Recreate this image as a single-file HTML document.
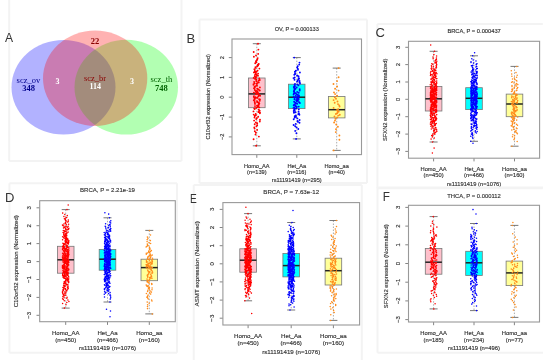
<!DOCTYPE html>
<html><head><meta charset="utf-8"><style>
html,body{margin:0;padding:0;background:#fff;width:550px;height:360px;overflow:hidden}
svg{display:block;filter:blur(0.3px)}
</style></head><body>
<svg width="550" height="360" viewBox="0 0 550 360" style="font-family:'Liberation Sans',sans-serif">
<rect width="550" height="360" fill="#fff"/>
<line x1="9.2" y1="0" x2="9.2" y2="161" stroke="#f3f3f3" stroke-width="2"/>
<line x1="181.5" y1="0" x2="181.5" y2="161" stroke="#f3f3f3" stroke-width="2"/>
<line x1="9.2" y1="161" x2="181.5" y2="161" stroke="#f3f3f3" stroke-width="2"/>
<text transform="translate(4.9,42.1) scale(0.93,1)" font-size="13" fill="#333">A</text>
<ellipse cx="63.5" cy="87.25" rx="52" ry="47.25" fill="#0000ff" fill-opacity="0.3"/>
<ellipse cx="126.25" cy="87.2" rx="51.75" ry="47.4" fill="#00ff00" fill-opacity="0.3"/>
<ellipse cx="95.15" cy="78.25" rx="52.15" ry="47.75" fill="#ff0000" fill-opacity="0.3"/>
<text x="95" y="43.6" style="font-family:'Liberation Serif',serif" font-size="8.5" font-weight="bold" fill="#8b0000" text-anchor="middle">22</text>
<text x="28.4" y="82.8" style="font-family:'Liberation Serif',serif" font-size="8.5" fill="#00008b" text-anchor="middle">scz_ov</text>
<text x="28.5" y="91" style="font-family:'Liberation Serif',serif" font-size="8.5" font-weight="bold" fill="#00008b" text-anchor="middle">348</text>
<text x="57.5" y="83.8" style="font-family:'Liberation Serif',serif" font-size="8" font-weight="bold" fill="#ffffff" text-anchor="middle">3</text>
<text x="95" y="80.7" style="font-family:'Liberation Serif',serif" font-size="8.5" fill="#8b0000" text-anchor="middle">scz_br</text>
<text x="95.2" y="89.3" style="font-family:'Liberation Serif',serif" font-size="8" font-weight="bold" fill="#ffffff" text-anchor="middle">114</text>
<text x="132" y="83.8" style="font-family:'Liberation Serif',serif" font-size="8" font-weight="bold" fill="#ffffff" text-anchor="middle">3</text>
<text x="161.4" y="82" style="font-family:'Liberation Serif',serif" font-size="8.5" fill="#006400" text-anchor="middle">scz_th</text>
<text x="161.4" y="91" style="font-family:'Liberation Serif',serif" font-size="8.5" font-weight="bold" fill="#006400" text-anchor="middle">748</text>
<line x1="199.5" y1="19.5" x2="367" y2="19.5" stroke="#f3f3f3" stroke-width="2"/>
<line x1="199.5" y1="183" x2="367" y2="183" stroke="#f3f3f3" stroke-width="2"/>
<line x1="199.5" y1="19.5" x2="199.5" y2="183" stroke="#f3f3f3" stroke-width="2"/>
<line x1="367" y1="19.5" x2="367" y2="183" stroke="#f3f3f3" stroke-width="2"/>
<text transform="translate(186.5,43.2) scale(1.0,1)" font-size="13" fill="#333">B</text>
<text x="296.8" y="31.2" font-size="5.62" fill="#333" stroke="#333" stroke-width="0.15" text-anchor="middle">OV, P = 0.000133</text>
<text transform="translate(210,96.8) rotate(-90)" font-size="5.62" fill="#333" stroke="#333" stroke-width="0.15" text-anchor="middle">C10orf32 expression (Normalized)</text>
<line x1="228.8" y1="136.9" x2="232" y2="136.9" stroke="#666" stroke-width="0.8"/>
<text transform="translate(223.5,136.9) rotate(-90)" font-size="5.62" fill="#333" stroke="#333" stroke-width="0.15" text-anchor="middle">−2</text>
<line x1="228.8" y1="117.1" x2="232" y2="117.1" stroke="#666" stroke-width="0.8"/>
<text transform="translate(223.5,117.1) rotate(-90)" font-size="5.62" fill="#333" stroke="#333" stroke-width="0.15" text-anchor="middle">−1</text>
<line x1="228.8" y1="97.2" x2="232" y2="97.2" stroke="#666" stroke-width="0.8"/>
<text transform="translate(223.5,97.2) rotate(-90)" font-size="5.62" fill="#333" stroke="#333" stroke-width="0.15" text-anchor="middle">0</text>
<line x1="228.8" y1="77.4" x2="232" y2="77.4" stroke="#666" stroke-width="0.8"/>
<text transform="translate(223.5,77.4) rotate(-90)" font-size="5.62" fill="#333" stroke="#333" stroke-width="0.15" text-anchor="middle">1</text>
<line x1="228.8" y1="57.6" x2="232" y2="57.6" stroke="#666" stroke-width="0.8"/>
<text transform="translate(223.5,57.6) rotate(-90)" font-size="5.62" fill="#333" stroke="#333" stroke-width="0.15" text-anchor="middle">2</text>
<line x1="256.8" y1="154.6" x2="256.8" y2="157.8" stroke="#666" stroke-width="0.8"/>
<line x1="256.8" y1="43.7" x2="256.8" y2="78.0" stroke="#888" stroke-width="0.7" stroke-dasharray="1.5,1.5"/>
<line x1="256.8" y1="107.8" x2="256.8" y2="145.8" stroke="#888" stroke-width="0.7" stroke-dasharray="1.5,1.5"/>
<line x1="252.8" y1="43.7" x2="260.8" y2="43.7" stroke="#555" stroke-width="0.8"/>
<line x1="252.8" y1="145.8" x2="260.8" y2="145.8" stroke="#555" stroke-width="0.8"/>
<rect x="248.5" y="78.0" width="16.6" height="29.7" fill="#ffc0cb" stroke="#777" stroke-width="0.8"/>
<line x1="248.5" y1="93.9" x2="265.1" y2="93.9" stroke="#222" stroke-width="1.5"/>
<path d="M256.2 145.8h0M253.6 139.3h0M258.9 136.6h0M255.5 134.6h0M255.9 132.8h0M254.8 131.3h0M257.2 129.9h0M254.6 128.6h0M254.3 127.4h0M256.4 126.3h0M257.2 125.3h0M254.7 124.3h0M257.2 123.3h0M255.8 122.4h0M259.8 121.5h0M254.1 120.6h0M260.0 119.8h0M256.2 119.0h0M256.8 118.2h0M254.5 117.5h0M258.2 116.7h0M254.8 116.0h0M255.8 115.3h0M253.7 114.6h0M255.7 114.0h0M259.9 113.3h0M260.0 112.7h0M258.4 112.0h0M253.5 111.4h0M259.7 110.8h0M259.2 110.2h0M258.6 109.6h0M254.7 109.0h0M254.2 108.5h0M256.2 107.9h0M259.3 107.4h0M257.3 107.0h0M258.4 106.5h0M255.0 106.1h0M257.0 105.6h0M258.2 105.2h0M258.9 104.8h0M258.8 104.3h0M255.0 103.9h0M259.3 103.5h0M254.9 103.1h0M258.8 102.7h0M257.2 102.3h0M254.7 101.9h0M257.4 101.5h0M256.9 101.1h0M259.8 100.7h0M253.8 100.3h0M254.6 99.9h0M260.0 99.5h0M259.0 99.1h0M254.5 98.7h0M255.0 98.4h0M257.1 98.0h0M254.5 97.6h0M255.6 97.2h0M253.8 96.9h0M258.2 96.5h0M254.0 96.1h0M260.1 95.7h0M259.6 95.4h0M258.7 95.0h0M258.6 94.6h0M255.9 94.3h0M258.0 93.9h0M258.5 93.5h0M256.7 93.0h0M253.9 92.6h0M257.6 92.2h0M255.7 91.8h0M257.5 91.3h0M256.3 90.9h0M259.8 90.5h0M254.8 90.0h0M258.6 89.6h0M258.1 89.2h0M257.2 88.7h0M254.0 88.3h0M254.6 87.9h0M259.9 87.4h0M255.0 87.0h0M254.6 86.6h0M255.4 86.1h0M257.0 85.7h0M256.9 85.2h0M253.5 84.7h0M253.5 84.3h0M256.8 83.8h0M254.7 83.4h0M257.5 82.9h0M258.8 82.4h0M254.1 81.9h0M256.8 81.4h0M256.2 81.0h0M258.7 80.5h0M259.8 80.0h0M256.3 79.5h0M255.1 78.9h0M259.3 78.4h0M253.7 77.9h0M255.7 77.4h0M256.1 76.9h0M254.7 76.3h0M258.0 75.8h0M256.9 75.3h0M255.1 74.7h0M256.2 74.2h0M258.1 73.6h0M255.6 73.0h0M253.9 72.4h0M256.5 71.8h0M254.8 71.2h0M257.6 70.6h0M254.8 69.9h0M254.4 69.3h0M259.4 68.6h0M255.7 67.9h0M255.4 67.2h0M257.1 66.4h0M258.1 65.6h0M257.9 64.8h0M258.8 64.0h0M255.2 63.2h0M256.3 62.2h0M255.9 61.3h0M256.9 60.3h0M257.3 59.2h0M257.7 58.1h0M253.9 56.8h0M256.0 55.4h0M258.2 53.9h0M253.7 52.0h0M258.4 49.6h0M258.0 43.7h0" stroke="#ff0000" stroke-width="1.9" stroke-linecap="round" fill="none"/>
<text x="256.8" y="167.8" font-size="5.62" fill="#333" stroke="#333" stroke-width="0.15" text-anchor="middle">Homo_AA</text>
<text x="256.8" y="174.4" font-size="5.62" fill="#333" stroke="#333" stroke-width="0.15" text-anchor="middle">(n=139)</text>
<line x1="296.8" y1="154.6" x2="296.8" y2="157.8" stroke="#666" stroke-width="0.8"/>
<line x1="296.8" y1="57.6" x2="296.8" y2="84.2" stroke="#888" stroke-width="0.7" stroke-dasharray="1.5,1.5"/>
<line x1="296.8" y1="108.6" x2="296.8" y2="138.9" stroke="#888" stroke-width="0.7" stroke-dasharray="1.5,1.5"/>
<line x1="292.8" y1="57.6" x2="300.8" y2="57.6" stroke="#555" stroke-width="0.8"/>
<line x1="292.8" y1="138.9" x2="300.8" y2="138.9" stroke="#555" stroke-width="0.8"/>
<rect x="288.4" y="84.2" width="16.6" height="24.4" fill="#00ffff" stroke="#777" stroke-width="0.8"/>
<line x1="288.4" y1="97.2" x2="305.1" y2="97.2" stroke="#222" stroke-width="1.5"/>
<path d="M296.1 138.9h0M296.4 133.2h0M295.2 130.9h0M298.3 129.0h0M296.6 127.5h0M295.2 126.2h0M293.6 125.0h0M295.7 123.9h0M299.5 122.8h0M297.9 121.8h0M297.6 120.9h0M299.6 120.0h0M293.7 119.2h0M297.4 118.4h0M294.7 117.6h0M296.1 116.9h0M294.7 116.2h0M295.8 115.5h0M299.4 114.8h0M298.2 114.1h0M299.0 113.5h0M293.9 112.8h0M295.4 112.2h0M298.6 111.6h0M293.7 111.1h0M294.7 110.5h0M294.0 109.9h0M298.8 109.4h0M295.0 108.8h0M296.3 108.3h0M293.5 107.9h0M294.2 107.4h0M296.8 107.0h0M298.7 106.6h0M295.7 106.2h0M295.6 105.7h0M293.7 105.3h0M294.1 104.9h0M294.4 104.5h0M294.8 104.1h0M297.2 103.7h0M295.8 103.4h0M299.9 103.0h0M295.3 102.6h0M299.1 102.2h0M294.1 101.8h0M296.9 101.5h0M297.1 101.1h0M297.8 100.7h0M296.2 100.3h0M296.9 100.0h0M298.6 99.6h0M294.5 99.2h0M297.0 98.9h0M297.3 98.5h0M298.6 98.2h0M294.5 97.8h0M296.2 97.4h0M293.6 97.0h0M297.8 96.6h0M299.2 96.2h0M295.8 95.8h0M298.8 95.4h0M297.8 94.9h0M293.6 94.5h0M296.6 94.1h0M293.8 93.7h0M295.5 93.2h0M298.7 92.8h0M294.3 92.4h0M297.2 91.9h0M293.8 91.5h0M294.2 91.1h0M299.7 90.6h0M294.1 90.2h0M294.6 89.7h0M299.7 89.3h0M295.5 88.8h0M294.9 88.4h0M294.1 87.9h0M296.7 87.4h0M293.8 86.9h0M294.9 86.4h0M294.9 86.0h0M298.4 85.4h0M294.5 84.9h0M297.3 84.4h0M295.0 83.9h0M300.0 83.5h0M300.0 83.0h0M299.5 82.5h0M299.4 82.0h0M297.1 81.5h0M299.6 80.9h0M297.7 80.4h0M294.5 79.8h0M298.3 79.3h0M299.1 78.7h0M293.5 78.1h0M294.7 77.5h0M298.6 76.9h0M298.5 76.2h0M297.1 75.5h0M294.3 74.8h0M295.2 74.1h0M295.0 73.3h0M299.9 72.5h0M294.9 71.7h0M295.9 70.8h0M298.0 69.8h0M297.8 68.7h0M297.2 67.5h0M297.7 66.2h0M299.2 64.6h0M299.5 62.6h0M294.2 57.6h0" stroke="#0000ff" stroke-width="1.9" stroke-linecap="round" fill="none"/>
<text x="296.8" y="167.8" font-size="5.62" fill="#333" stroke="#333" stroke-width="0.15" text-anchor="middle">Het_Aa</text>
<text x="296.8" y="174.4" font-size="5.62" fill="#333" stroke="#333" stroke-width="0.15" text-anchor="middle">(n=116)</text>
<line x1="336.7" y1="154.6" x2="336.7" y2="157.8" stroke="#666" stroke-width="0.8"/>
<line x1="336.7" y1="68.1" x2="336.7" y2="96.5" stroke="#888" stroke-width="0.7" stroke-dasharray="1.5,1.5"/>
<line x1="336.7" y1="117.9" x2="336.7" y2="150.4" stroke="#888" stroke-width="0.7" stroke-dasharray="1.5,1.5"/>
<line x1="332.7" y1="68.1" x2="340.7" y2="68.1" stroke="#555" stroke-width="0.8"/>
<line x1="332.7" y1="150.4" x2="340.7" y2="150.4" stroke="#555" stroke-width="0.8"/>
<rect x="328.4" y="96.5" width="16.6" height="21.4" fill="#ffff99" stroke="#777" stroke-width="0.8"/>
<line x1="328.4" y1="109.7" x2="345.0" y2="109.7" stroke="#222" stroke-width="1.5"/>
<path d="M333.6 150.4h0M339.4 139.8h0M339.4 135.5h0M335.8 132.1h0M336.0 129.3h0M337.9 126.8h0M336.2 124.5h0M334.1 122.5h0M335.0 120.6h0M335.4 118.7h0M337.1 117.4h0M334.5 116.5h0M338.2 115.6h0M339.8 114.8h0M335.9 114.0h0M337.2 113.2h0M337.6 112.4h0M338.7 111.6h0M337.6 110.9h0M336.8 110.1h0M338.2 109.1h0M333.6 107.9h0M339.6 106.6h0M339.3 105.4h0M338.0 104.1h0M334.7 102.8h0M337.5 101.5h0M333.6 100.1h0M336.0 98.7h0M334.8 97.2h0M337.1 95.7h0M335.1 94.1h0M334.0 92.4h0M338.6 90.6h0M335.1 88.7h0M337.1 86.5h0M333.5 84.0h0M337.1 81.1h0M338.6 77.3h0M338.6 68.1h0" stroke="#ff8c1a" stroke-width="1.9" stroke-linecap="round" fill="none"/>
<text x="336.7" y="167.8" font-size="5.62" fill="#333" stroke="#333" stroke-width="0.15" text-anchor="middle">Homo_aa</text>
<text x="336.7" y="174.4" font-size="5.62" fill="#333" stroke="#333" stroke-width="0.15" text-anchor="middle">(n=40)</text>
<rect x="232" y="39" width="129.5" height="115.6" fill="none" stroke="#999" stroke-width="1.1"/>
<text x="296.8" y="182.2" font-size="5.62" fill="#333" stroke="#333" stroke-width="0.15" text-anchor="middle">rs11191419 (n=295)</text>
<line x1="377.4" y1="23.9" x2="542.8" y2="23.9" stroke="#f3f3f3" stroke-width="2"/>
<line x1="377.4" y1="188.3" x2="542.8" y2="188.3" stroke="#f3f3f3" stroke-width="2"/>
<line x1="377.4" y1="23.9" x2="377.4" y2="188.3" stroke="#f3f3f3" stroke-width="2"/>
<text transform="translate(375.6,37.3) scale(1.0,1)" font-size="13" fill="#333">C</text>
<text x="474.1" y="33" font-size="5.75" fill="#333" stroke="#333" stroke-width="0.15" text-anchor="middle">BRCA, P = 0.000437</text>
<text transform="translate(387,99.8) rotate(-90)" font-size="5.75" fill="#333" stroke="#333" stroke-width="0.15" text-anchor="middle">SFXN2 expression (Normalized)</text>
<line x1="405.3" y1="151.4" x2="408.5" y2="151.4" stroke="#666" stroke-width="0.8"/>
<text transform="translate(400.0,151.4) rotate(-90)" font-size="5.75" fill="#333" stroke="#333" stroke-width="0.15" text-anchor="middle">−3</text>
<line x1="405.3" y1="134.1" x2="408.5" y2="134.1" stroke="#666" stroke-width="0.8"/>
<text transform="translate(400.0,134.1) rotate(-90)" font-size="5.75" fill="#333" stroke="#333" stroke-width="0.15" text-anchor="middle">−2</text>
<line x1="405.3" y1="116.7" x2="408.5" y2="116.7" stroke="#666" stroke-width="0.8"/>
<text transform="translate(400.0,116.7) rotate(-90)" font-size="5.75" fill="#333" stroke="#333" stroke-width="0.15" text-anchor="middle">−1</text>
<line x1="405.3" y1="99.3" x2="408.5" y2="99.3" stroke="#666" stroke-width="0.8"/>
<text transform="translate(400.0,99.3) rotate(-90)" font-size="5.75" fill="#333" stroke="#333" stroke-width="0.15" text-anchor="middle">0</text>
<line x1="405.3" y1="82.0" x2="408.5" y2="82.0" stroke="#666" stroke-width="0.8"/>
<text transform="translate(400.0,82.0) rotate(-90)" font-size="5.75" fill="#333" stroke="#333" stroke-width="0.15" text-anchor="middle">1</text>
<line x1="405.3" y1="64.6" x2="408.5" y2="64.6" stroke="#666" stroke-width="0.8"/>
<text transform="translate(400.0,64.6) rotate(-90)" font-size="5.75" fill="#333" stroke="#333" stroke-width="0.15" text-anchor="middle">2</text>
<line x1="405.3" y1="47.3" x2="408.5" y2="47.3" stroke="#666" stroke-width="0.8"/>
<text transform="translate(400.0,47.3) rotate(-90)" font-size="5.75" fill="#333" stroke="#333" stroke-width="0.15" text-anchor="middle">3</text>
<line x1="433.6" y1="158.2" x2="433.6" y2="161.4" stroke="#666" stroke-width="0.8"/>
<line x1="433.6" y1="51.3" x2="433.6" y2="86.5" stroke="#888" stroke-width="0.7" stroke-dasharray="1.5,1.5"/>
<line x1="433.6" y1="111.0" x2="433.6" y2="142.0" stroke="#888" stroke-width="0.7" stroke-dasharray="1.5,1.5"/>
<line x1="429.6" y1="51.3" x2="437.6" y2="51.3" stroke="#555" stroke-width="0.8"/>
<line x1="429.6" y1="142.0" x2="437.6" y2="142.0" stroke="#555" stroke-width="0.8"/>
<rect x="425.3" y="86.5" width="16.6" height="24.5" fill="#ffc0cb" stroke="#777" stroke-width="0.8"/>
<line x1="425.3" y1="98.8" x2="441.9" y2="98.8" stroke="#222" stroke-width="1.5"/>
<path d="M432.5 142.0h0M431.1 139.1h0M434.3 137.9h0M432.3 136.9h0M432.2 136.1h0M431.7 135.4h0M432.9 134.8h0M434.8 134.2h0M433.0 133.7h0M434.6 133.2h0M435.1 132.7h0M435.6 132.3h0M434.1 131.8h0M436.8 131.4h0M433.6 131.0h0M433.8 130.6h0M434.6 130.3h0M436.7 129.9h0M434.9 129.5h0M436.4 129.2h0M431.3 128.9h0M433.1 128.5h0M434.9 128.2h0M435.1 127.9h0M435.8 127.6h0M432.1 127.3h0M432.4 127.0h0M433.0 126.7h0M432.9 126.5h0M430.9 126.2h0M432.9 125.9h0M434.5 125.6h0M435.2 125.4h0M431.8 125.1h0M434.4 124.9h0M435.3 124.6h0M431.3 124.4h0M430.4 124.1h0M431.4 123.9h0M434.8 123.6h0M436.3 123.4h0M432.9 123.2h0M432.4 122.9h0M434.4 122.7h0M432.4 122.5h0M430.6 122.3h0M431.9 122.1h0M434.3 121.8h0M433.3 121.6h0M432.6 121.4h0M432.9 121.2h0M431.2 121.0h0M435.4 120.8h0M432.8 120.6h0M434.9 120.4h0M434.0 120.2h0M436.2 120.0h0M435.6 119.8h0M431.2 119.6h0M433.3 119.4h0M430.4 119.2h0M435.3 119.0h0M431.8 118.8h0M436.7 118.7h0M431.8 118.5h0M433.7 118.3h0M433.5 118.1h0M435.8 117.9h0M434.2 117.8h0M436.1 117.6h0M432.4 117.4h0M430.9 117.2h0M431.5 117.0h0M430.6 116.9h0M435.0 116.7h0M434.8 116.5h0M435.3 116.4h0M435.5 116.2h0M431.1 116.0h0M430.7 115.9h0M434.6 115.7h0M430.3 115.5h0M432.5 115.4h0M434.2 115.2h0M434.6 115.0h0M434.4 114.9h0M436.6 114.7h0M436.7 114.6h0M432.3 114.4h0M432.4 114.3h0M430.4 114.1h0M431.1 113.9h0M433.2 113.8h0M434.5 113.6h0M431.9 113.5h0M431.0 113.3h0M434.8 113.2h0M434.7 113.0h0M433.6 112.9h0M431.2 112.7h0M431.6 112.6h0M432.1 112.4h0M435.9 112.3h0M436.4 112.1h0M430.6 112.0h0M436.5 111.9h0M436.3 111.7h0M435.5 111.6h0M431.8 111.4h0M436.7 111.3h0M435.6 111.1h0M431.2 111.0h0M430.5 110.9h0M432.8 110.8h0M434.1 110.6h0M430.5 110.5h0M436.6 110.4h0M434.7 110.3h0M433.7 110.1h0M433.5 110.0h0M431.0 109.9h0M435.2 109.8h0M435.2 109.6h0M430.4 109.5h0M435.6 109.4h0M432.6 109.3h0M436.5 109.2h0M432.6 109.0h0M431.7 108.9h0M431.6 108.8h0M432.5 108.7h0M430.8 108.6h0M431.4 108.5h0M433.4 108.3h0M433.9 108.2h0M434.0 108.1h0M431.2 108.0h0M430.5 107.9h0M431.3 107.8h0M436.2 107.7h0M431.2 107.5h0M434.8 107.4h0M434.0 107.3h0M434.3 107.2h0M436.5 107.1h0M432.0 107.0h0M434.9 106.9h0M433.7 106.8h0M432.7 106.6h0M432.9 106.5h0M431.6 106.4h0M431.0 106.3h0M436.4 106.2h0M434.5 106.1h0M431.4 106.0h0M435.6 105.9h0M431.5 105.8h0M434.7 105.7h0M434.2 105.5h0M435.6 105.4h0M433.0 105.3h0M436.6 105.2h0M435.0 105.1h0M433.3 105.0h0M431.1 104.9h0M432.0 104.8h0M431.2 104.7h0M433.7 104.6h0M435.6 104.5h0M435.2 104.4h0M434.5 104.3h0M433.1 104.2h0M432.1 104.1h0M435.6 103.9h0M434.7 103.8h0M434.7 103.7h0M434.0 103.6h0M435.5 103.5h0M434.2 103.4h0M432.0 103.3h0M432.8 103.2h0M432.3 103.1h0M432.2 103.0h0M436.2 102.9h0M435.0 102.8h0M434.3 102.7h0M433.3 102.6h0M433.5 102.5h0M431.0 102.4h0M433.4 102.3h0M434.2 102.2h0M432.6 102.1h0M433.6 102.0h0M436.9 101.9h0M436.3 101.8h0M430.8 101.7h0M436.5 101.6h0M435.5 101.5h0M435.7 101.4h0M435.6 101.3h0M431.7 101.2h0M431.2 101.1h0M434.5 101.0h0M435.8 100.9h0M431.0 100.8h0M430.4 100.7h0M436.6 100.5h0M436.3 100.4h0M432.0 100.3h0M435.8 100.2h0M432.3 100.1h0M435.9 100.0h0M430.4 99.9h0M434.3 99.8h0M431.8 99.7h0M434.5 99.6h0M430.5 99.5h0M434.6 99.4h0M431.0 99.3h0M433.2 99.2h0M430.8 99.1h0M432.8 99.0h0M431.3 98.9h0M432.5 98.8h0M433.4 98.7h0M434.7 98.6h0M434.5 98.5h0M433.8 98.4h0M435.9 98.3h0M433.0 98.2h0M431.3 98.1h0M434.8 98.0h0M432.7 97.9h0M436.5 97.8h0M432.9 97.7h0M430.4 97.6h0M432.6 97.5h0M436.6 97.4h0M433.5 97.3h0M435.7 97.2h0M432.7 97.1h0M434.3 97.0h0M430.8 96.9h0M431.6 96.8h0M431.0 96.7h0M433.0 96.6h0M432.4 96.5h0M434.0 96.4h0M434.6 96.3h0M431.9 96.2h0M432.1 96.1h0M430.5 95.9h0M431.1 95.8h0M432.8 95.7h0M436.2 95.6h0M431.5 95.5h0M433.0 95.4h0M430.4 95.3h0M434.2 95.2h0M433.1 95.1h0M432.5 95.0h0M432.9 94.9h0M432.1 94.8h0M433.0 94.7h0M431.5 94.6h0M435.0 94.5h0M436.5 94.4h0M436.3 94.3h0M432.7 94.2h0M430.4 94.1h0M435.4 94.0h0M433.3 93.9h0M433.9 93.7h0M434.6 93.6h0M435.7 93.5h0M433.7 93.4h0M433.2 93.3h0M431.2 93.2h0M430.6 93.1h0M431.4 93.0h0M431.3 92.9h0M436.5 92.8h0M434.0 92.7h0M430.5 92.6h0M432.4 92.5h0M433.0 92.3h0M435.8 92.2h0M433.0 92.1h0M433.9 92.0h0M432.0 91.9h0M432.4 91.8h0M430.8 91.7h0M435.5 91.6h0M433.5 91.5h0M435.1 91.4h0M434.1 91.2h0M430.9 91.1h0M432.1 91.0h0M432.4 90.9h0M435.5 90.8h0M432.6 90.7h0M436.7 90.6h0M435.6 90.5h0M434.9 90.3h0M433.8 90.2h0M434.9 90.1h0M432.5 90.0h0M431.0 89.9h0M436.0 89.8h0M433.3 89.6h0M436.6 89.5h0M435.1 89.4h0M434.1 89.3h0M433.1 89.2h0M434.8 89.1h0M431.9 88.9h0M432.6 88.8h0M432.4 88.7h0M435.7 88.6h0M436.6 88.5h0M430.9 88.3h0M430.5 88.2h0M432.6 88.1h0M434.8 88.0h0M433.2 87.9h0M435.3 87.7h0M436.7 87.6h0M434.7 87.5h0M434.7 87.4h0M431.2 87.2h0M434.2 87.1h0M434.4 87.0h0M431.6 86.9h0M430.5 86.7h0M434.8 86.6h0M436.9 86.5h0M434.6 86.3h0M431.6 86.2h0M436.0 86.0h0M432.4 85.8h0M432.6 85.7h0M435.7 85.5h0M435.5 85.3h0M436.4 85.2h0M436.1 85.0h0M430.3 84.8h0M431.8 84.7h0M434.1 84.5h0M431.8 84.3h0M435.9 84.2h0M435.2 84.0h0M435.3 83.8h0M436.5 83.7h0M435.0 83.5h0M436.7 83.3h0M433.4 83.1h0M431.2 83.0h0M433.7 82.8h0M436.6 82.6h0M434.4 82.4h0M432.4 82.3h0M431.0 82.1h0M431.2 81.9h0M431.1 81.7h0M435.0 81.5h0M432.5 81.3h0M433.2 81.2h0M436.7 81.0h0M432.5 80.8h0M434.6 80.6h0M432.6 80.4h0M432.8 80.2h0M433.1 80.0h0M433.2 79.8h0M431.1 79.6h0M434.5 79.4h0M434.0 79.2h0M431.0 79.0h0M436.7 78.8h0M436.8 78.6h0M432.1 78.4h0M432.5 78.2h0M435.5 78.0h0M433.6 77.8h0M434.0 77.6h0M435.3 77.4h0M435.3 77.2h0M432.1 76.9h0M433.5 76.7h0M435.6 76.5h0M436.1 76.3h0M436.0 76.1h0M435.6 75.8h0M434.6 75.6h0M430.5 75.4h0M432.7 75.1h0M435.0 74.9h0M431.9 74.7h0M430.7 74.4h0M434.2 74.2h0M435.4 73.9h0M436.9 73.7h0M435.1 73.4h0M433.3 73.2h0M430.5 72.9h0M434.8 72.7h0M436.2 72.4h0M433.7 72.1h0M434.0 71.9h0M430.9 71.6h0M432.4 71.3h0M434.2 71.0h0M435.6 70.8h0M432.4 70.5h0M435.8 70.2h0M434.2 69.9h0M434.0 69.6h0M431.6 69.3h0M434.9 69.0h0M431.2 68.6h0M433.1 68.3h0M436.2 68.0h0M436.0 67.6h0M436.5 67.3h0M431.6 67.0h0M436.3 66.6h0M433.4 66.2h0M431.4 65.8h0M436.2 65.5h0M436.6 65.1h0M436.7 64.6h0M432.7 64.2h0M431.8 63.8h0M436.4 63.3h0M435.0 62.9h0M436.4 62.4h0M435.1 61.9h0M436.8 61.3h0M435.1 60.7h0M435.7 60.1h0M436.4 59.5h0M433.1 58.8h0M436.4 58.0h0M433.0 57.1h0M436.6 56.0h0M433.9 54.6h0M434.5 51.3h0M430.7 44.9h0M434.1 148.1h0M432.4 153.0h0" stroke="#ff0000" stroke-width="1.55" stroke-linecap="round" fill="none"/>
<text x="433.6" y="170.8" font-size="5.75" fill="#333" stroke="#333" stroke-width="0.15" text-anchor="middle">Homo_AA</text>
<text x="433.6" y="177.4" font-size="5.75" fill="#333" stroke="#333" stroke-width="0.15" text-anchor="middle">(n=450)</text>
<line x1="474.0" y1="158.2" x2="474.0" y2="161.4" stroke="#666" stroke-width="0.8"/>
<line x1="474.0" y1="55.8" x2="474.0" y2="87.7" stroke="#888" stroke-width="0.7" stroke-dasharray="1.5,1.5"/>
<line x1="474.0" y1="109.6" x2="474.0" y2="141.3" stroke="#888" stroke-width="0.7" stroke-dasharray="1.5,1.5"/>
<line x1="470.0" y1="55.8" x2="478.0" y2="55.8" stroke="#555" stroke-width="0.8"/>
<line x1="470.0" y1="141.3" x2="478.0" y2="141.3" stroke="#555" stroke-width="0.8"/>
<rect x="465.7" y="87.7" width="16.6" height="21.9" fill="#00ffff" stroke="#777" stroke-width="0.8"/>
<line x1="465.7" y1="98.3" x2="482.3" y2="98.3" stroke="#222" stroke-width="1.5"/>
<path d="M470.8 141.3h0M472.9 138.4h0M472.5 137.2h0M470.8 136.2h0M472.8 135.4h0M472.4 134.7h0M471.4 134.1h0M472.4 133.5h0M476.4 133.0h0M472.1 132.5h0M475.3 132.0h0M477.2 131.5h0M470.8 131.1h0M475.4 130.7h0M471.6 130.3h0M471.9 129.9h0M472.7 129.5h0M476.8 129.2h0M476.5 128.8h0M471.3 128.5h0M475.9 128.1h0M471.3 127.8h0M473.1 127.5h0M477.3 127.2h0M476.5 126.9h0M471.4 126.6h0M474.4 126.3h0M473.5 126.0h0M475.2 125.7h0M476.4 125.4h0M474.4 125.2h0M476.9 124.9h0M476.6 124.6h0M471.8 124.4h0M471.1 124.1h0M472.0 123.9h0M474.1 123.6h0M475.3 123.4h0M476.3 123.1h0M475.5 122.9h0M475.0 122.7h0M474.7 122.4h0M475.0 122.2h0M473.3 122.0h0M475.1 121.7h0M476.2 121.5h0M476.4 121.3h0M475.4 121.1h0M475.2 120.9h0M471.2 120.7h0M472.9 120.4h0M473.7 120.2h0M472.7 120.0h0M472.0 119.8h0M473.2 119.6h0M476.2 119.4h0M472.5 119.2h0M476.9 119.0h0M470.7 118.8h0M473.5 118.6h0M475.5 118.5h0M475.7 118.3h0M470.8 118.1h0M471.5 117.9h0M471.2 117.7h0M474.4 117.5h0M471.3 117.3h0M473.3 117.2h0M472.6 117.0h0M471.4 116.8h0M473.2 116.6h0M473.6 116.4h0M474.5 116.3h0M473.0 116.1h0M471.2 115.9h0M472.9 115.8h0M475.3 115.6h0M470.7 115.4h0M474.1 115.2h0M470.8 115.1h0M476.4 114.9h0M472.0 114.7h0M474.2 114.6h0M471.3 114.4h0M474.3 114.3h0M475.9 114.1h0M476.7 113.9h0M475.9 113.8h0M476.6 113.6h0M470.8 113.5h0M476.0 113.3h0M471.0 113.2h0M476.4 113.0h0M477.3 112.8h0M475.4 112.7h0M474.7 112.5h0M475.5 112.4h0M471.3 112.2h0M476.4 112.1h0M471.3 111.9h0M472.3 111.8h0M472.5 111.6h0M475.2 111.5h0M473.3 111.4h0M473.2 111.2h0M474.0 111.1h0M475.7 110.9h0M476.2 110.8h0M476.3 110.6h0M472.6 110.5h0M471.0 110.4h0M471.3 110.2h0M471.5 110.1h0M475.6 109.9h0M471.3 109.8h0M475.7 109.7h0M470.7 109.5h0M475.2 109.4h0M472.3 109.3h0M475.0 109.2h0M475.7 109.1h0M475.0 109.0h0M471.2 108.9h0M470.8 108.7h0M473.2 108.6h0M476.7 108.5h0M473.8 108.4h0M472.4 108.3h0M473.8 108.2h0M476.1 108.1h0M472.1 108.0h0M471.5 107.9h0M476.8 107.8h0M473.5 107.7h0M473.6 107.6h0M472.8 107.5h0M472.3 107.4h0M476.4 107.3h0M476.0 107.1h0M472.4 107.0h0M475.5 106.9h0M476.8 106.8h0M473.5 106.7h0M477.2 106.6h0M471.3 106.5h0M476.2 106.4h0M476.3 106.3h0M472.4 106.2h0M472.5 106.1h0M472.5 106.0h0M471.6 105.9h0M476.1 105.8h0M475.3 105.7h0M475.9 105.6h0M474.9 105.5h0M472.4 105.4h0M471.3 105.3h0M472.4 105.2h0M475.9 105.1h0M470.8 105.0h0M474.2 104.9h0M472.8 104.8h0M472.6 104.7h0M472.9 104.6h0M474.6 104.5h0M471.8 104.5h0M471.7 104.4h0M476.3 104.3h0M475.7 104.2h0M473.1 104.1h0M472.3 104.0h0M474.6 103.9h0M476.9 103.8h0M475.9 103.7h0M473.6 103.6h0M474.9 103.5h0M473.1 103.4h0M475.4 103.3h0M474.1 103.2h0M470.9 103.1h0M475.1 103.0h0M476.5 102.9h0M473.9 102.8h0M471.8 102.7h0M472.7 102.6h0M472.0 102.6h0M476.2 102.5h0M475.6 102.4h0M472.7 102.3h0M472.7 102.2h0M471.5 102.1h0M473.6 102.0h0M477.1 101.9h0M475.7 101.8h0M476.9 101.7h0M471.2 101.6h0M476.8 101.5h0M476.7 101.4h0M476.1 101.4h0M471.5 101.3h0M476.4 101.2h0M477.2 101.1h0M475.6 101.0h0M474.1 100.9h0M473.0 100.8h0M476.5 100.7h0M474.7 100.6h0M472.8 100.5h0M471.2 100.4h0M470.8 100.3h0M475.3 100.3h0M472.7 100.2h0M471.6 100.1h0M472.7 100.0h0M473.7 99.9h0M476.3 99.8h0M473.8 99.7h0M471.5 99.6h0M476.2 99.5h0M475.2 99.4h0M474.3 99.3h0M476.6 99.3h0M473.4 99.2h0M473.3 99.1h0M471.1 99.0h0M475.3 98.9h0M474.8 98.8h0M477.0 98.7h0M470.8 98.6h0M473.4 98.5h0M473.6 98.4h0M473.4 98.4h0M471.0 98.3h0M476.1 98.2h0M471.0 98.1h0M474.9 98.0h0M472.8 97.9h0M473.5 97.8h0M476.2 97.8h0M472.0 97.7h0M474.1 97.6h0M472.5 97.5h0M474.7 97.4h0M474.3 97.3h0M475.1 97.2h0M471.3 97.2h0M474.9 97.1h0M475.1 97.0h0M471.1 96.9h0M477.1 96.8h0M476.3 96.7h0M475.9 96.7h0M475.9 96.6h0M474.0 96.5h0M476.7 96.4h0M471.7 96.3h0M475.6 96.2h0M477.1 96.1h0M471.1 96.1h0M475.0 96.0h0M477.1 95.9h0M471.6 95.8h0M474.4 95.7h0M476.6 95.6h0M472.4 95.5h0M472.1 95.5h0M475.4 95.4h0M475.9 95.3h0M476.9 95.2h0M475.0 95.1h0M471.1 95.0h0M476.1 94.9h0M472.6 94.8h0M474.4 94.8h0M475.5 94.7h0M477.2 94.6h0M474.3 94.5h0M471.7 94.4h0M474.1 94.3h0M474.4 94.2h0M475.7 94.1h0M472.0 94.1h0M474.3 94.0h0M471.0 93.9h0M477.2 93.8h0M470.8 93.7h0M474.3 93.6h0M471.9 93.5h0M472.5 93.4h0M473.4 93.4h0M472.4 93.3h0M472.4 93.2h0M472.7 93.1h0M474.0 93.0h0M477.0 92.9h0M472.1 92.8h0M471.8 92.7h0M471.0 92.6h0M476.7 92.5h0M475.9 92.5h0M476.2 92.4h0M471.7 92.3h0M473.6 92.2h0M475.1 92.1h0M474.2 92.0h0M475.5 91.9h0M472.0 91.8h0M476.7 91.7h0M474.6 91.6h0M474.7 91.5h0M474.6 91.4h0M473.6 91.3h0M470.8 91.3h0M471.8 91.2h0M473.9 91.1h0M471.2 91.0h0M474.6 90.9h0M472.0 90.8h0M475.2 90.7h0M473.4 90.6h0M475.0 90.5h0M472.4 90.4h0M471.5 90.3h0M475.1 90.2h0M476.1 90.1h0M472.1 90.0h0M470.9 89.9h0M476.4 89.8h0M475.7 89.7h0M475.8 89.6h0M475.9 89.5h0M473.5 89.4h0M477.0 89.3h0M476.0 89.2h0M475.7 89.1h0M476.9 89.0h0M476.7 88.9h0M474.4 88.8h0M471.1 88.7h0M474.6 88.6h0M474.0 88.5h0M470.8 88.4h0M472.8 88.3h0M476.1 88.2h0M474.8 88.1h0M476.8 88.0h0M475.7 87.9h0M471.9 87.8h0M475.4 87.7h0M471.0 87.5h0M476.4 87.4h0M472.6 87.2h0M477.1 87.1h0M471.0 87.0h0M475.6 86.8h0M471.4 86.7h0M476.4 86.5h0M476.1 86.4h0M474.1 86.2h0M474.4 86.1h0M472.2 85.9h0M473.1 85.8h0M471.7 85.7h0M473.3 85.5h0M471.6 85.4h0M474.9 85.2h0M474.0 85.1h0M473.0 84.9h0M473.0 84.8h0M477.0 84.6h0M477.0 84.4h0M477.2 84.3h0M473.1 84.1h0M471.2 84.0h0M471.8 83.8h0M476.4 83.7h0M473.0 83.5h0M471.7 83.3h0M477.0 83.2h0M472.2 83.0h0M474.4 82.9h0M473.4 82.7h0M471.6 82.5h0M473.2 82.4h0M475.9 82.2h0M474.3 82.0h0M476.4 81.9h0M470.8 81.7h0M471.4 81.5h0M473.6 81.4h0M474.9 81.2h0M473.4 81.0h0M472.5 80.8h0M476.1 80.7h0M476.3 80.5h0M475.0 80.3h0M471.6 80.1h0M475.6 79.9h0M474.7 79.8h0M475.5 79.6h0M475.6 79.4h0M474.4 79.2h0M473.2 79.0h0M476.2 78.8h0M476.8 78.6h0M477.0 78.4h0M472.7 78.2h0M472.1 78.0h0M472.0 77.8h0M475.2 77.6h0M477.1 77.4h0M472.3 77.2h0M473.7 77.0h0M474.3 76.8h0M473.4 76.6h0M474.3 76.4h0M473.1 76.2h0M474.6 75.9h0M477.2 75.7h0M475.7 75.5h0M477.1 75.3h0M473.5 75.1h0M471.7 74.8h0M472.0 74.6h0M472.2 74.4h0M475.8 74.1h0M472.2 73.9h0M474.4 73.6h0M476.8 73.4h0M473.5 73.1h0M472.3 72.9h0M476.6 72.6h0M477.2 72.3h0M471.1 72.1h0M476.1 71.8h0M477.1 71.5h0M472.7 71.2h0M473.1 70.9h0M472.0 70.7h0M472.1 70.4h0M475.8 70.0h0M473.6 69.7h0M472.7 69.4h0M473.1 69.1h0M476.7 68.7h0M477.3 68.4h0M472.8 68.0h0M472.5 67.7h0M472.5 67.3h0M475.9 66.9h0M476.7 66.5h0M472.0 66.1h0M471.4 65.7h0M472.9 65.2h0M476.2 64.7h0M476.3 64.2h0M477.0 63.7h0M473.5 63.1h0M471.0 62.4h0M471.0 61.7h0M476.0 60.9h0M473.2 60.0h0M471.8 58.8h0M472.6 55.8h0M474.6 52.7h0M473.0 143.2h0" stroke="#0000ff" stroke-width="1.55" stroke-linecap="round" fill="none"/>
<text x="474.0" y="170.8" font-size="5.75" fill="#333" stroke="#333" stroke-width="0.15" text-anchor="middle">Het_Aa</text>
<text x="474.0" y="177.4" font-size="5.75" fill="#333" stroke="#333" stroke-width="0.15" text-anchor="middle">(n=466)</text>
<line x1="514.5" y1="158.2" x2="514.5" y2="161.4" stroke="#666" stroke-width="0.8"/>
<line x1="514.5" y1="66.4" x2="514.5" y2="94.1" stroke="#888" stroke-width="0.7" stroke-dasharray="1.5,1.5"/>
<line x1="514.5" y1="116.7" x2="514.5" y2="146.2" stroke="#888" stroke-width="0.7" stroke-dasharray="1.5,1.5"/>
<line x1="510.5" y1="66.4" x2="518.5" y2="66.4" stroke="#555" stroke-width="0.8"/>
<line x1="510.5" y1="146.2" x2="518.5" y2="146.2" stroke="#555" stroke-width="0.8"/>
<rect x="506.2" y="94.1" width="16.6" height="22.6" fill="#ffff99" stroke="#777" stroke-width="0.8"/>
<line x1="506.2" y1="104.0" x2="522.8" y2="104.0" stroke="#222" stroke-width="1.5"/>
<path d="M511.9 146.2h0M517.2 141.5h0M514.0 139.6h0M514.5 138.1h0M512.5 136.8h0M514.6 135.7h0M512.9 134.7h0M517.4 133.8h0M516.9 132.9h0M515.9 132.1h0M514.9 131.4h0M516.0 130.6h0M511.8 129.9h0M513.6 129.3h0M517.0 128.6h0M516.4 128.0h0M513.3 127.4h0M513.7 126.8h0M512.1 126.3h0M511.2 125.7h0M517.5 125.2h0M512.4 124.7h0M516.5 124.2h0M512.4 123.7h0M514.2 123.2h0M514.8 122.7h0M512.4 122.3h0M513.1 121.8h0M512.1 121.4h0M511.2 120.9h0M513.6 120.5h0M516.7 120.1h0M512.7 119.6h0M514.1 119.2h0M513.8 118.8h0M514.6 118.4h0M512.6 118.0h0M511.5 117.6h0M513.4 117.3h0M517.7 116.9h0M515.0 116.5h0M514.2 116.2h0M513.1 115.8h0M515.9 115.4h0M512.2 115.1h0M515.3 114.7h0M514.5 114.4h0M511.7 114.1h0M514.5 113.7h0M513.4 113.4h0M511.3 113.0h0M514.2 112.7h0M512.5 112.4h0M511.9 112.1h0M515.7 111.7h0M514.9 111.4h0M513.8 111.1h0M515.8 110.8h0M517.0 110.5h0M513.6 110.2h0M514.7 109.9h0M517.1 109.6h0M513.0 109.2h0M514.2 108.9h0M514.4 108.6h0M513.6 108.3h0M514.9 108.0h0M516.4 107.7h0M517.0 107.4h0M513.9 107.1h0M513.1 106.8h0M516.3 106.5h0M515.8 106.2h0M513.0 106.0h0M514.1 105.7h0M512.8 105.4h0M514.7 105.1h0M512.6 104.8h0M511.7 104.5h0M512.9 104.2h0M511.8 103.9h0M513.2 103.7h0M513.4 103.5h0M513.3 103.2h0M517.3 103.0h0M516.2 102.8h0M512.9 102.5h0M517.2 102.3h0M514.4 102.1h0M511.3 101.8h0M514.3 101.6h0M511.8 101.4h0M513.0 101.1h0M517.5 100.9h0M514.7 100.7h0M517.7 100.4h0M514.1 100.2h0M513.4 100.0h0M512.7 99.7h0M512.8 99.5h0M516.3 99.2h0M515.1 99.0h0M516.9 98.8h0M514.4 98.5h0M516.9 98.3h0M517.1 98.0h0M511.7 97.8h0M515.6 97.5h0M511.7 97.3h0M513.5 97.0h0M512.0 96.7h0M515.4 96.5h0M512.0 96.2h0M511.8 95.9h0M516.1 95.7h0M515.7 95.4h0M516.8 95.1h0M517.2 94.9h0M515.9 94.6h0M516.7 94.3h0M513.1 94.0h0M514.2 93.6h0M514.8 93.3h0M513.8 92.9h0M514.3 92.5h0M514.4 92.1h0M514.6 91.8h0M511.5 91.4h0M512.2 91.0h0M516.3 90.6h0M516.9 90.2h0M512.6 89.8h0M511.9 89.3h0M512.7 88.9h0M517.0 88.5h0M514.1 88.0h0M517.7 87.6h0M514.5 87.1h0M512.0 86.6h0M516.2 86.1h0M512.0 85.6h0M515.8 85.1h0M517.8 84.6h0M516.1 84.1h0M516.6 83.5h0M514.0 82.9h0M511.6 82.3h0M512.7 81.7h0M516.9 81.0h0M516.4 80.4h0M515.0 79.6h0M512.5 78.9h0M514.4 78.1h0M516.6 77.2h0M511.9 76.3h0M517.2 75.2h0M511.7 74.0h0M516.0 72.6h0M511.3 70.8h0M516.8 66.4h0" stroke="#ff8c1a" stroke-width="1.55" stroke-linecap="round" fill="none"/>
<text x="514.5" y="170.8" font-size="5.75" fill="#333" stroke="#333" stroke-width="0.15" text-anchor="middle">Homo_aa</text>
<text x="514.5" y="177.4" font-size="5.75" fill="#333" stroke="#333" stroke-width="0.15" text-anchor="middle">(n=160)</text>
<rect x="408.5" y="41.3" width="131.1" height="116.9" fill="none" stroke="#999" stroke-width="1.1"/>
<text x="474.1" y="185.8" font-size="5.75" fill="#333" stroke="#333" stroke-width="0.15" text-anchor="middle">rs11191419 (n=1076)</text>
<line x1="9.4" y1="183.3" x2="177" y2="183.3" stroke="#f3f3f3" stroke-width="2"/>
<line x1="9.4" y1="352.8" x2="177" y2="352.8" stroke="#f3f3f3" stroke-width="2"/>
<line x1="9.4" y1="183.3" x2="9.4" y2="352.8" stroke="#f3f3f3" stroke-width="2"/>
<line x1="177" y1="183.3" x2="177" y2="352.8" stroke="#f3f3f3" stroke-width="2"/>
<text transform="translate(5,202.2) scale(1.0,1)" font-size="13" fill="#333">D</text>
<text x="107.5" y="191.7" font-size="6.05" fill="#333" stroke="#333" stroke-width="0.15" text-anchor="middle">BRCA, P = 2.21e-19</text>
<text transform="translate(18,261.2) rotate(-90)" font-size="6.05" fill="#333" stroke="#333" stroke-width="0.15" text-anchor="middle">C10orf32 expression (Normalized)</text>
<line x1="36.5" y1="315.3" x2="39.7" y2="315.3" stroke="#666" stroke-width="0.8"/>
<text transform="translate(31.2,315.3) rotate(-90)" font-size="6.05" fill="#333" stroke="#333" stroke-width="0.15" text-anchor="middle">−3</text>
<line x1="36.5" y1="297.4" x2="39.7" y2="297.4" stroke="#666" stroke-width="0.8"/>
<text transform="translate(31.2,297.4) rotate(-90)" font-size="6.05" fill="#333" stroke="#333" stroke-width="0.15" text-anchor="middle">−2</text>
<line x1="36.5" y1="279.5" x2="39.7" y2="279.5" stroke="#666" stroke-width="0.8"/>
<text transform="translate(31.2,279.5) rotate(-90)" font-size="6.05" fill="#333" stroke="#333" stroke-width="0.15" text-anchor="middle">−1</text>
<line x1="36.5" y1="261.6" x2="39.7" y2="261.6" stroke="#666" stroke-width="0.8"/>
<text transform="translate(31.2,261.6) rotate(-90)" font-size="6.05" fill="#333" stroke="#333" stroke-width="0.15" text-anchor="middle">0</text>
<line x1="36.5" y1="243.6" x2="39.7" y2="243.6" stroke="#666" stroke-width="0.8"/>
<text transform="translate(31.2,243.6) rotate(-90)" font-size="6.05" fill="#333" stroke="#333" stroke-width="0.15" text-anchor="middle">1</text>
<line x1="36.5" y1="225.7" x2="39.7" y2="225.7" stroke="#666" stroke-width="0.8"/>
<text transform="translate(31.2,225.7) rotate(-90)" font-size="6.05" fill="#333" stroke="#333" stroke-width="0.15" text-anchor="middle">2</text>
<line x1="36.5" y1="207.8" x2="39.7" y2="207.8" stroke="#666" stroke-width="0.8"/>
<text transform="translate(31.2,207.8) rotate(-90)" font-size="6.05" fill="#333" stroke="#333" stroke-width="0.15" text-anchor="middle">3</text>
<line x1="65.7" y1="321.7" x2="65.7" y2="324.9" stroke="#666" stroke-width="0.8"/>
<line x1="65.7" y1="209.6" x2="65.7" y2="246.3" stroke="#888" stroke-width="0.7" stroke-dasharray="1.5,1.5"/>
<line x1="65.7" y1="273.2" x2="65.7" y2="308.1" stroke="#888" stroke-width="0.7" stroke-dasharray="1.5,1.5"/>
<line x1="61.7" y1="209.6" x2="69.7" y2="209.6" stroke="#555" stroke-width="0.8"/>
<line x1="61.7" y1="308.1" x2="69.7" y2="308.1" stroke="#555" stroke-width="0.8"/>
<rect x="57.4" y="246.3" width="16.6" height="26.9" fill="#ffc0cb" stroke="#777" stroke-width="0.8"/>
<line x1="57.4" y1="259.8" x2="74.0" y2="259.8" stroke="#222" stroke-width="1.5"/>
<path d="M64.4 308.1h0M66.0 304.8h0M62.6 303.5h0M66.8 302.4h0M68.9 301.5h0M64.3 300.8h0M67.9 300.0h0M63.3 299.4h0M62.6 298.8h0M66.8 298.2h0M64.1 297.7h0M67.1 297.2h0M62.8 296.7h0M63.2 296.2h0M64.4 295.8h0M65.8 295.3h0M63.9 294.9h0M63.2 294.5h0M63.1 294.1h0M64.8 293.7h0M62.8 293.4h0M65.9 293.0h0M62.5 292.6h0M65.8 292.3h0M64.4 291.9h0M62.6 291.6h0M62.5 291.3h0M66.2 291.0h0M67.0 290.7h0M63.5 290.3h0M66.1 290.0h0M62.9 289.7h0M65.4 289.4h0M67.7 289.2h0M63.6 288.9h0M65.4 288.6h0M68.3 288.3h0M64.1 288.0h0M67.5 287.8h0M62.9 287.5h0M64.2 287.2h0M67.5 287.0h0M68.1 286.7h0M64.3 286.5h0M65.1 286.2h0M64.5 286.0h0M63.6 285.7h0M64.5 285.5h0M67.9 285.2h0M66.1 285.0h0M67.9 284.8h0M66.1 284.5h0M66.8 284.3h0M66.0 284.1h0M63.8 283.9h0M65.6 283.6h0M64.6 283.4h0M63.9 283.2h0M64.4 283.0h0M68.4 282.8h0M68.7 282.5h0M68.7 282.3h0M65.9 282.1h0M64.2 281.9h0M64.8 281.7h0M64.3 281.5h0M68.7 281.3h0M68.1 281.1h0M67.5 280.9h0M65.8 280.7h0M65.6 280.5h0M67.2 280.3h0M68.2 280.1h0M67.1 279.9h0M68.6 279.7h0M66.3 279.5h0M67.9 279.3h0M66.4 279.1h0M66.0 278.9h0M67.8 278.8h0M65.3 278.6h0M67.9 278.4h0M64.1 278.2h0M68.8 278.0h0M67.2 277.8h0M63.6 277.7h0M66.9 277.5h0M64.3 277.3h0M63.0 277.1h0M63.2 277.0h0M65.2 276.8h0M68.6 276.6h0M63.9 276.4h0M65.9 276.3h0M65.3 276.1h0M63.5 275.9h0M66.9 275.8h0M64.4 275.6h0M62.6 275.4h0M68.0 275.3h0M67.4 275.1h0M62.7 274.9h0M65.3 274.8h0M64.5 274.6h0M66.7 274.4h0M64.4 274.3h0M67.0 274.1h0M62.7 273.9h0M68.3 273.8h0M66.6 273.6h0M65.0 273.5h0M67.7 273.3h0M67.2 273.2h0M64.4 273.0h0M62.9 272.9h0M66.6 272.7h0M65.2 272.6h0M68.1 272.5h0M63.3 272.3h0M67.8 272.2h0M67.9 272.1h0M63.7 271.9h0M64.0 271.8h0M66.4 271.7h0M64.2 271.5h0M65.6 271.4h0M65.9 271.3h0M64.9 271.1h0M63.2 271.0h0M64.2 270.9h0M67.7 270.7h0M67.6 270.6h0M63.0 270.5h0M66.9 270.4h0M68.2 270.2h0M66.4 270.1h0M68.7 270.0h0M66.2 269.9h0M65.4 269.7h0M65.0 269.6h0M66.2 269.5h0M66.7 269.3h0M68.9 269.2h0M63.3 269.1h0M64.5 269.0h0M68.2 268.9h0M66.9 268.7h0M64.4 268.6h0M66.1 268.5h0M62.8 268.4h0M63.3 268.2h0M62.6 268.1h0M67.9 268.0h0M63.2 267.9h0M64.8 267.8h0M64.5 267.6h0M66.9 267.5h0M62.8 267.4h0M62.4 267.3h0M63.5 267.2h0M66.1 267.0h0M64.7 266.9h0M62.9 266.8h0M64.2 266.7h0M64.1 266.6h0M67.1 266.4h0M67.1 266.3h0M62.5 266.2h0M67.9 266.1h0M63.1 266.0h0M65.0 265.9h0M65.1 265.7h0M62.5 265.6h0M63.1 265.5h0M67.2 265.4h0M66.9 265.3h0M67.6 265.2h0M68.7 265.0h0M68.2 264.9h0M64.3 264.8h0M66.7 264.7h0M66.7 264.6h0M63.9 264.5h0M67.4 264.4h0M68.4 264.2h0M66.3 264.1h0M67.5 264.0h0M64.2 263.9h0M67.9 263.8h0M64.5 263.7h0M64.4 263.6h0M66.1 263.4h0M66.4 263.3h0M65.4 263.2h0M67.8 263.1h0M67.3 263.0h0M65.8 262.9h0M68.2 262.8h0M65.0 262.7h0M64.9 262.5h0M68.8 262.4h0M64.4 262.3h0M63.2 262.2h0M68.0 262.1h0M66.9 262.0h0M64.5 261.9h0M67.7 261.8h0M66.8 261.7h0M65.3 261.5h0M65.8 261.4h0M68.6 261.3h0M65.9 261.2h0M63.0 261.1h0M65.2 261.0h0M64.4 260.9h0M68.7 260.8h0M65.2 260.6h0M65.0 260.5h0M67.4 260.4h0M67.4 260.3h0M62.9 260.2h0M66.8 260.1h0M68.5 260.0h0M66.2 259.9h0M64.2 259.8h0M68.5 259.6h0M62.8 259.5h0M65.6 259.4h0M63.7 259.3h0M66.0 259.2h0M65.0 259.1h0M68.2 259.0h0M62.8 258.9h0M65.4 258.8h0M64.3 258.6h0M63.1 258.5h0M67.9 258.4h0M66.6 258.3h0M64.7 258.2h0M65.9 258.1h0M65.3 258.0h0M62.7 257.9h0M64.5 257.8h0M62.6 257.6h0M63.0 257.5h0M68.0 257.4h0M67.5 257.3h0M64.3 257.2h0M62.5 257.1h0M68.2 257.0h0M62.8 256.9h0M64.0 256.7h0M68.0 256.6h0M66.1 256.5h0M65.2 256.4h0M67.5 256.3h0M68.4 256.2h0M66.2 256.1h0M68.4 256.0h0M62.8 255.8h0M65.8 255.7h0M66.9 255.6h0M67.9 255.5h0M65.5 255.4h0M66.5 255.3h0M64.3 255.2h0M67.2 255.0h0M66.2 254.9h0M68.9 254.8h0M65.8 254.7h0M63.6 254.6h0M67.6 254.5h0M65.3 254.4h0M63.2 254.2h0M68.7 254.1h0M65.6 254.0h0M63.5 253.9h0M63.7 253.8h0M64.0 253.7h0M68.5 253.5h0M67.7 253.4h0M62.6 253.3h0M67.0 253.2h0M64.5 253.1h0M65.2 253.0h0M67.3 252.8h0M64.3 252.7h0M64.3 252.6h0M68.5 252.5h0M67.6 252.4h0M67.8 252.2h0M67.3 252.1h0M68.7 252.0h0M67.3 251.9h0M67.3 251.8h0M64.3 251.6h0M67.0 251.5h0M68.5 251.4h0M66.1 251.3h0M67.1 251.2h0M63.5 251.0h0M65.4 250.9h0M65.8 250.8h0M67.2 250.7h0M65.8 250.5h0M63.9 250.4h0M68.9 250.3h0M65.5 250.2h0M63.1 250.0h0M67.9 249.9h0M64.8 249.8h0M68.6 249.7h0M62.6 249.5h0M67.4 249.4h0M66.8 249.3h0M67.1 249.2h0M62.6 249.0h0M65.7 248.9h0M65.7 248.8h0M64.3 248.6h0M62.9 248.5h0M66.4 248.4h0M64.8 248.2h0M68.9 248.1h0M63.9 248.0h0M64.9 247.9h0M66.7 247.7h0M63.2 247.6h0M63.3 247.4h0M62.9 247.3h0M67.9 247.2h0M67.5 247.0h0M63.1 246.9h0M64.2 246.8h0M66.7 246.6h0M62.7 246.5h0M62.8 246.4h0M63.6 246.2h0M67.5 246.0h0M64.0 245.9h0M67.3 245.7h0M63.4 245.5h0M66.5 245.4h0M66.8 245.2h0M66.6 245.0h0M63.5 244.9h0M65.4 244.7h0M64.0 244.5h0M64.5 244.3h0M64.5 244.2h0M68.4 244.0h0M63.6 243.8h0M65.0 243.6h0M67.5 243.5h0M62.9 243.3h0M67.5 243.1h0M68.3 242.9h0M66.4 242.7h0M68.5 242.5h0M65.4 242.4h0M67.5 242.2h0M68.9 242.0h0M65.6 241.8h0M65.3 241.6h0M68.6 241.4h0M66.9 241.2h0M65.7 241.1h0M65.0 240.9h0M67.1 240.7h0M68.8 240.5h0M65.7 240.3h0M65.4 240.1h0M65.7 239.9h0M62.6 239.7h0M67.8 239.5h0M67.1 239.3h0M66.5 239.1h0M67.0 238.9h0M67.7 238.7h0M65.2 238.4h0M66.1 238.2h0M63.9 238.0h0M66.0 237.8h0M66.6 237.6h0M66.1 237.4h0M63.6 237.2h0M64.2 236.9h0M62.6 236.7h0M65.1 236.5h0M66.2 236.3h0M64.7 236.0h0M66.8 235.8h0M64.9 235.6h0M65.5 235.4h0M63.7 235.1h0M65.9 234.9h0M63.8 234.6h0M63.8 234.4h0M65.2 234.2h0M66.6 233.9h0M65.7 233.7h0M63.9 233.4h0M66.1 233.2h0M67.0 232.9h0M63.8 232.6h0M63.1 232.4h0M68.1 232.1h0M64.6 231.8h0M66.1 231.6h0M65.6 231.3h0M65.7 231.0h0M64.4 230.7h0M63.3 230.4h0M67.0 230.1h0M66.8 229.8h0M68.5 229.5h0M65.6 229.2h0M68.0 228.9h0M65.7 228.6h0M68.9 228.3h0M63.5 228.0h0M64.3 227.6h0M67.4 227.3h0M65.1 227.0h0M66.1 226.6h0M68.2 226.2h0M63.8 225.9h0M62.8 225.5h0M62.5 225.1h0M66.4 224.7h0M68.6 224.3h0M63.9 223.9h0M65.7 223.5h0M65.2 223.0h0M65.6 222.6h0M67.8 222.1h0M68.2 221.6h0M66.2 221.1h0M65.5 220.6h0M68.3 220.0h0M65.3 219.4h0M64.4 218.8h0M65.5 218.1h0M66.7 217.4h0M63.9 216.5h0M67.3 215.6h0M64.8 214.5h0M62.7 213.1h0M67.0 209.6h0M68.2 204.9h0" stroke="#ff0000" stroke-width="1.55" stroke-linecap="round" fill="none"/>
<text x="65.7" y="334.5" font-size="6.05" fill="#333" stroke="#333" stroke-width="0.15" text-anchor="middle">Homo_AA</text>
<text x="65.7" y="341.7" font-size="6.05" fill="#333" stroke="#333" stroke-width="0.15" text-anchor="middle">(n=450)</text>
<line x1="107.5" y1="321.7" x2="107.5" y2="324.9" stroke="#666" stroke-width="0.8"/>
<line x1="107.5" y1="217.8" x2="107.5" y2="249.4" stroke="#888" stroke-width="0.7" stroke-dasharray="1.5,1.5"/>
<line x1="107.5" y1="270.2" x2="107.5" y2="302.0" stroke="#888" stroke-width="0.7" stroke-dasharray="1.5,1.5"/>
<line x1="103.5" y1="217.8" x2="111.5" y2="217.8" stroke="#555" stroke-width="0.8"/>
<line x1="103.5" y1="302.0" x2="111.5" y2="302.0" stroke="#555" stroke-width="0.8"/>
<rect x="99.2" y="249.4" width="16.6" height="20.8" fill="#00ffff" stroke="#777" stroke-width="0.8"/>
<line x1="99.2" y1="259.2" x2="115.8" y2="259.2" stroke="#222" stroke-width="1.5"/>
<path d="M110.0 302.0h0M110.2 299.1h0M110.7 297.8h0M104.5 296.9h0M110.6 296.1h0M110.1 295.4h0M110.1 294.8h0M104.3 294.2h0M108.6 293.6h0M105.5 293.1h0M110.1 292.6h0M106.0 292.2h0M104.6 291.7h0M108.1 291.3h0M108.8 290.9h0M107.7 290.5h0M106.9 290.1h0M104.6 289.8h0M109.0 289.4h0M104.3 289.1h0M108.0 288.7h0M104.8 288.4h0M107.2 288.1h0M108.0 287.8h0M105.8 287.5h0M109.2 287.2h0M105.9 286.9h0M109.9 286.6h0M106.8 286.3h0M108.7 286.0h0M107.2 285.7h0M106.3 285.5h0M104.8 285.2h0M108.2 284.9h0M104.5 284.7h0M107.3 284.4h0M106.9 284.2h0M106.1 283.9h0M105.9 283.7h0M107.4 283.5h0M110.0 283.2h0M109.4 283.0h0M106.2 282.8h0M108.1 282.5h0M108.4 282.3h0M109.0 282.1h0M108.3 281.9h0M104.6 281.6h0M105.1 281.4h0M109.4 281.2h0M105.9 281.0h0M108.0 280.8h0M104.6 280.6h0M108.0 280.4h0M106.1 280.2h0M104.5 280.0h0M104.3 279.8h0M105.8 279.6h0M107.6 279.4h0M109.2 279.2h0M104.4 279.0h0M107.5 278.8h0M106.4 278.6h0M108.2 278.4h0M108.8 278.2h0M104.8 278.0h0M105.8 277.9h0M109.9 277.7h0M108.6 277.5h0M105.3 277.3h0M107.8 277.1h0M106.6 277.0h0M105.2 276.8h0M106.9 276.6h0M107.7 276.4h0M108.5 276.3h0M110.0 276.1h0M106.0 275.9h0M110.7 275.8h0M106.6 275.6h0M108.5 275.4h0M106.8 275.2h0M107.2 275.1h0M108.7 274.9h0M109.1 274.8h0M104.7 274.6h0M104.3 274.4h0M106.5 274.3h0M106.3 274.1h0M107.1 274.0h0M110.4 273.8h0M106.2 273.6h0M105.7 273.5h0M107.0 273.3h0M106.4 273.2h0M106.9 273.0h0M107.7 272.9h0M104.9 272.7h0M109.2 272.6h0M108.4 272.4h0M109.2 272.3h0M107.1 272.1h0M105.4 272.0h0M109.1 271.8h0M110.0 271.7h0M110.1 271.5h0M109.0 271.4h0M105.0 271.2h0M106.1 271.1h0M108.8 271.0h0M104.5 270.8h0M106.1 270.7h0M106.8 270.5h0M109.5 270.4h0M104.4 270.3h0M106.0 270.1h0M108.4 270.0h0M104.2 269.9h0M106.2 269.8h0M109.1 269.7h0M107.3 269.6h0M109.1 269.5h0M105.8 269.4h0M108.9 269.3h0M105.2 269.1h0M108.4 269.0h0M109.4 268.9h0M104.6 268.8h0M106.1 268.7h0M106.4 268.6h0M110.0 268.5h0M104.7 268.4h0M106.9 268.3h0M110.8 268.2h0M104.8 268.1h0M110.5 268.0h0M104.7 267.9h0M107.8 267.8h0M107.2 267.7h0M108.7 267.6h0M106.1 267.5h0M107.3 267.4h0M109.9 267.3h0M105.3 267.2h0M110.1 267.1h0M104.8 267.0h0M105.4 266.9h0M105.7 266.8h0M107.8 266.7h0M106.2 266.6h0M107.3 266.5h0M104.6 266.4h0M106.2 266.3h0M104.2 266.2h0M105.0 266.1h0M108.5 266.0h0M107.9 265.9h0M107.3 265.8h0M104.4 265.7h0M109.2 265.6h0M104.8 265.5h0M108.8 265.5h0M106.9 265.4h0M110.0 265.3h0M104.8 265.2h0M106.5 265.1h0M104.5 265.0h0M110.4 264.9h0M108.3 264.8h0M106.4 264.7h0M105.3 264.6h0M110.1 264.5h0M106.5 264.4h0M105.0 264.3h0M107.3 264.2h0M106.6 264.1h0M109.6 264.0h0M104.6 264.0h0M109.3 263.9h0M110.1 263.8h0M104.6 263.7h0M108.7 263.6h0M109.0 263.5h0M109.2 263.4h0M109.9 263.3h0M107.3 263.2h0M108.5 263.1h0M108.1 263.0h0M107.1 263.0h0M105.1 262.9h0M107.8 262.8h0M107.7 262.7h0M106.5 262.6h0M109.0 262.5h0M110.1 262.4h0M107.6 262.3h0M106.7 262.2h0M107.6 262.1h0M109.1 262.1h0M106.2 262.0h0M109.6 261.9h0M108.6 261.8h0M108.8 261.7h0M108.1 261.6h0M104.6 261.5h0M108.5 261.4h0M109.9 261.3h0M108.6 261.3h0M109.8 261.2h0M105.2 261.1h0M107.2 261.0h0M108.9 260.9h0M110.4 260.8h0M104.7 260.7h0M105.6 260.6h0M105.8 260.5h0M105.9 260.5h0M108.5 260.4h0M106.9 260.3h0M110.3 260.2h0M108.7 260.1h0M108.8 260.0h0M110.2 259.9h0M109.9 259.8h0M104.4 259.7h0M107.0 259.7h0M108.5 259.6h0M109.0 259.5h0M110.2 259.4h0M105.6 259.3h0M107.5 259.2h0M110.1 259.1h0M105.4 259.1h0M104.5 259.0h0M107.0 258.9h0M105.4 258.8h0M104.4 258.7h0M106.8 258.7h0M108.4 258.6h0M108.5 258.5h0M109.9 258.4h0M106.1 258.3h0M106.0 258.3h0M110.2 258.2h0M104.6 258.1h0M108.1 258.0h0M105.1 257.9h0M109.2 257.9h0M105.0 257.8h0M109.7 257.7h0M106.1 257.6h0M110.3 257.5h0M108.4 257.5h0M109.3 257.4h0M105.5 257.3h0M108.6 257.2h0M108.5 257.1h0M106.8 257.1h0M107.9 257.0h0M107.7 256.9h0M109.8 256.8h0M110.8 256.7h0M109.6 256.7h0M107.5 256.6h0M104.9 256.5h0M108.4 256.4h0M110.6 256.3h0M105.6 256.3h0M105.1 256.2h0M105.5 256.1h0M104.8 256.0h0M107.6 255.9h0M105.5 255.9h0M110.0 255.8h0M110.1 255.7h0M109.9 255.6h0M107.7 255.5h0M107.2 255.4h0M108.6 255.4h0M106.9 255.3h0M107.9 255.2h0M104.6 255.1h0M107.8 255.0h0M107.9 254.9h0M105.6 254.9h0M105.4 254.8h0M107.1 254.7h0M110.1 254.6h0M110.8 254.5h0M108.9 254.4h0M106.4 254.4h0M106.4 254.3h0M110.3 254.2h0M106.0 254.1h0M108.1 254.0h0M109.0 253.9h0M106.1 253.9h0M110.3 253.8h0M105.9 253.7h0M110.7 253.6h0M108.9 253.5h0M107.7 253.4h0M108.0 253.3h0M110.1 253.3h0M109.9 253.2h0M104.5 253.1h0M106.3 253.0h0M104.3 252.9h0M107.0 252.8h0M108.9 252.7h0M106.8 252.6h0M107.9 252.6h0M105.3 252.5h0M105.6 252.4h0M106.4 252.3h0M105.9 252.2h0M108.9 252.1h0M109.3 252.0h0M106.2 251.9h0M109.7 251.8h0M106.5 251.8h0M109.7 251.7h0M108.8 251.6h0M107.5 251.5h0M109.3 251.4h0M109.4 251.3h0M105.7 251.2h0M110.1 251.1h0M106.5 251.0h0M104.6 250.9h0M110.7 250.8h0M110.7 250.7h0M108.6 250.6h0M104.5 250.6h0M104.3 250.5h0M109.4 250.4h0M108.8 250.3h0M109.8 250.2h0M110.5 250.1h0M108.3 250.0h0M109.6 249.9h0M106.6 249.8h0M106.9 249.7h0M108.3 249.6h0M106.2 249.5h0M108.5 249.4h0M110.0 249.3h0M107.2 249.1h0M110.1 249.0h0M109.2 248.8h0M105.9 248.7h0M104.6 248.6h0M106.3 248.4h0M108.1 248.3h0M108.0 248.1h0M105.3 248.0h0M108.7 247.9h0M106.3 247.7h0M106.7 247.6h0M104.9 247.4h0M108.9 247.3h0M105.8 247.1h0M105.5 247.0h0M110.1 246.8h0M106.4 246.7h0M109.5 246.5h0M104.6 246.4h0M107.5 246.2h0M108.5 246.1h0M108.8 245.9h0M107.3 245.8h0M105.3 245.6h0M107.8 245.4h0M110.0 245.3h0M106.1 245.1h0M106.9 245.0h0M108.6 244.8h0M106.5 244.6h0M108.5 244.5h0M107.0 244.3h0M105.3 244.2h0M107.4 244.0h0M104.6 243.8h0M104.7 243.7h0M107.0 243.5h0M106.5 243.3h0M109.5 243.2h0M104.6 243.0h0M106.5 242.8h0M108.2 242.6h0M108.0 242.5h0M108.3 242.3h0M108.0 242.1h0M110.6 241.9h0M105.7 241.7h0M107.5 241.6h0M104.7 241.4h0M109.2 241.2h0M107.8 241.0h0M110.6 240.8h0M105.0 240.6h0M107.8 240.4h0M106.0 240.2h0M107.0 240.1h0M110.3 239.9h0M105.7 239.7h0M105.1 239.5h0M106.9 239.3h0M106.0 239.1h0M109.3 238.9h0M108.9 238.6h0M105.9 238.4h0M109.7 238.2h0M105.8 238.0h0M104.6 237.8h0M105.3 237.6h0M108.0 237.4h0M109.3 237.1h0M108.9 236.9h0M105.3 236.7h0M106.8 236.4h0M109.6 236.2h0M108.4 236.0h0M109.3 235.7h0M105.2 235.5h0M109.5 235.2h0M105.3 235.0h0M104.4 234.7h0M107.4 234.5h0M108.5 234.2h0M108.4 234.0h0M107.4 233.7h0M105.4 233.4h0M107.9 233.1h0M107.3 232.8h0M104.2 232.5h0M105.9 232.2h0M106.7 231.9h0M109.0 231.6h0M110.6 231.3h0M110.7 231.0h0M107.9 230.7h0M106.5 230.3h0M109.9 230.0h0M109.5 229.6h0M110.5 229.2h0M105.9 228.8h0M110.8 228.4h0M108.1 228.0h0M108.5 227.6h0M105.7 227.1h0M110.3 226.7h0M105.2 226.2h0M108.8 225.6h0M110.3 225.0h0M109.5 224.4h0M105.6 223.7h0M110.7 222.9h0M109.8 222.0h0M110.8 220.8h0M109.5 217.8h0M104.9 212.8h0M108.7 214.1h0M106.5 309.2h0M110.5 311.0h0M110.0 316.7h0" stroke="#0000ff" stroke-width="1.55" stroke-linecap="round" fill="none"/>
<text x="107.5" y="334.5" font-size="6.05" fill="#333" stroke="#333" stroke-width="0.15" text-anchor="middle">Het_Aa</text>
<text x="107.5" y="341.7" font-size="6.05" fill="#333" stroke="#333" stroke-width="0.15" text-anchor="middle">(n=466)</text>
<line x1="149.3" y1="321.7" x2="149.3" y2="324.9" stroke="#666" stroke-width="0.8"/>
<line x1="149.3" y1="230.4" x2="149.3" y2="259.2" stroke="#888" stroke-width="0.7" stroke-dasharray="1.5,1.5"/>
<line x1="149.3" y1="280.7" x2="149.3" y2="313.9" stroke="#888" stroke-width="0.7" stroke-dasharray="1.5,1.5"/>
<line x1="145.3" y1="230.4" x2="153.3" y2="230.4" stroke="#555" stroke-width="0.8"/>
<line x1="145.3" y1="313.9" x2="153.3" y2="313.9" stroke="#555" stroke-width="0.8"/>
<rect x="141.0" y="259.2" width="16.6" height="21.5" fill="#ffff99" stroke="#777" stroke-width="0.8"/>
<line x1="141.0" y1="267.6" x2="157.7" y2="267.6" stroke="#222" stroke-width="1.5"/>
<path d="M152.3 313.9h0M147.5 308.6h0M147.5 306.4h0M147.6 304.7h0M149.2 303.3h0M147.2 302.1h0M152.0 301.0h0M151.6 299.9h0M148.3 299.0h0M147.7 298.1h0M146.9 297.2h0M147.4 296.4h0M147.9 295.6h0M148.1 294.9h0M150.7 294.1h0M146.4 293.4h0M149.7 292.8h0M151.4 292.1h0M147.6 291.5h0M150.2 290.9h0M147.8 290.3h0M152.0 289.7h0M149.4 289.1h0M148.5 288.6h0M152.1 288.0h0M149.4 287.5h0M148.6 287.0h0M147.3 286.5h0M146.8 286.0h0M148.1 285.5h0M146.2 285.0h0M151.8 284.5h0M152.0 284.0h0M151.6 283.6h0M149.2 283.1h0M148.4 282.7h0M147.9 282.2h0M147.0 281.8h0M147.9 281.4h0M148.1 280.9h0M149.4 280.5h0M147.3 280.2h0M149.5 279.8h0M149.3 279.4h0M147.0 279.1h0M149.9 278.7h0M152.0 278.3h0M151.0 278.0h0M149.6 277.6h0M147.7 277.3h0M150.8 277.0h0M147.6 276.6h0M151.6 276.3h0M147.9 275.9h0M147.3 275.6h0M151.2 275.3h0M147.4 275.0h0M147.9 274.6h0M150.6 274.3h0M148.6 274.0h0M148.7 273.7h0M152.1 273.3h0M151.8 273.0h0M152.6 272.7h0M149.7 272.4h0M148.5 272.1h0M149.9 271.8h0M148.7 271.5h0M152.4 271.2h0M147.8 270.8h0M151.5 270.5h0M151.2 270.2h0M147.9 269.9h0M151.2 269.6h0M150.6 269.3h0M151.3 269.0h0M149.5 268.7h0M147.0 268.4h0M149.2 268.1h0M152.4 267.8h0M152.0 267.5h0M148.2 267.3h0M150.3 267.2h0M146.2 267.0h0M150.8 266.8h0M149.9 266.6h0M148.6 266.4h0M147.8 266.2h0M146.6 266.0h0M147.6 265.8h0M148.9 265.6h0M148.9 265.4h0M147.1 265.2h0M150.6 265.0h0M146.1 264.8h0M147.2 264.6h0M147.9 264.4h0M147.2 264.2h0M151.4 264.0h0M152.3 263.8h0M149.2 263.6h0M148.3 263.4h0M151.6 263.1h0M151.0 262.9h0M150.3 262.7h0M152.1 262.5h0M146.5 262.3h0M150.0 262.1h0M147.8 261.9h0M152.4 261.6h0M146.5 261.4h0M151.9 261.2h0M152.1 261.0h0M146.4 260.8h0M151.9 260.5h0M149.4 260.3h0M152.0 260.1h0M149.1 259.8h0M152.5 259.6h0M148.1 259.3h0M147.3 259.0h0M150.2 258.7h0M152.5 258.3h0M147.7 257.9h0M150.6 257.5h0M147.8 257.1h0M148.5 256.7h0M150.1 256.3h0M151.1 255.9h0M149.3 255.5h0M152.2 255.1h0M150.4 254.7h0M146.3 254.2h0M150.1 253.8h0M146.3 253.3h0M147.6 252.9h0M149.6 252.4h0M148.7 251.9h0M150.6 251.4h0M148.7 250.9h0M151.4 250.4h0M149.7 249.8h0M150.0 249.3h0M150.1 248.7h0M149.4 248.1h0M149.6 247.5h0M146.1 246.9h0M147.0 246.3h0M148.1 245.6h0M147.6 244.9h0M147.3 244.1h0M150.6 243.4h0M149.0 242.5h0M147.1 241.6h0M150.4 240.6h0M147.2 239.6h0M148.0 238.3h0M147.4 236.9h0M150.5 235.0h0M149.4 230.4h0" stroke="#ff8c1a" stroke-width="1.55" stroke-linecap="round" fill="none"/>
<text x="149.3" y="334.5" font-size="6.05" fill="#333" stroke="#333" stroke-width="0.15" text-anchor="middle">Homo_aa</text>
<text x="149.3" y="341.7" font-size="6.05" fill="#333" stroke="#333" stroke-width="0.15" text-anchor="middle">(n=160)</text>
<rect x="39.7" y="200.7" width="135.6" height="121.0" fill="none" stroke="#999" stroke-width="1.1"/>
<text x="107.5" y="350.3" font-size="6.05" fill="#333" stroke="#333" stroke-width="0.15" text-anchor="middle">rs11191419 (n=1076)</text>
<line x1="193.7" y1="184.9" x2="361.8" y2="184.9" stroke="#f3f3f3" stroke-width="2"/>
<line x1="193.7" y1="365" x2="361.8" y2="365" stroke="#f3f3f3" stroke-width="2"/>
<line x1="193.7" y1="184.9" x2="193.7" y2="365" stroke="#f3f3f3" stroke-width="2"/>
<line x1="361.8" y1="184.9" x2="361.8" y2="365" stroke="#f3f3f3" stroke-width="2"/>
<text transform="translate(190,203.4) scale(0.78,1)" font-size="13" fill="#333">E</text>
<text x="291.2" y="194.4" font-size="6.15" fill="#333" stroke="#333" stroke-width="0.15" text-anchor="middle">BRCA, P = 7.63e-12</text>
<text transform="translate(199,263.8) rotate(-90)" font-size="6.15" fill="#333" stroke="#333" stroke-width="0.15" text-anchor="middle">ASMT expression (Normalized)</text>
<line x1="219.7" y1="318.2" x2="222.9" y2="318.2" stroke="#666" stroke-width="0.8"/>
<text transform="translate(214.4,318.2) rotate(-90)" font-size="6.15" fill="#333" stroke="#333" stroke-width="0.15" text-anchor="middle">−3</text>
<line x1="219.7" y1="300.1" x2="222.9" y2="300.1" stroke="#666" stroke-width="0.8"/>
<text transform="translate(214.4,300.1) rotate(-90)" font-size="6.15" fill="#333" stroke="#333" stroke-width="0.15" text-anchor="middle">−2</text>
<line x1="219.7" y1="281.9" x2="222.9" y2="281.9" stroke="#666" stroke-width="0.8"/>
<text transform="translate(214.4,281.9) rotate(-90)" font-size="6.15" fill="#333" stroke="#333" stroke-width="0.15" text-anchor="middle">−1</text>
<line x1="219.7" y1="263.8" x2="222.9" y2="263.8" stroke="#666" stroke-width="0.8"/>
<text transform="translate(214.4,263.8) rotate(-90)" font-size="6.15" fill="#333" stroke="#333" stroke-width="0.15" text-anchor="middle">0</text>
<line x1="219.7" y1="245.7" x2="222.9" y2="245.7" stroke="#666" stroke-width="0.8"/>
<text transform="translate(214.4,245.7) rotate(-90)" font-size="6.15" fill="#333" stroke="#333" stroke-width="0.15" text-anchor="middle">1</text>
<line x1="219.7" y1="227.5" x2="222.9" y2="227.5" stroke="#666" stroke-width="0.8"/>
<text transform="translate(214.4,227.5) rotate(-90)" font-size="6.15" fill="#333" stroke="#333" stroke-width="0.15" text-anchor="middle">2</text>
<line x1="219.7" y1="209.4" x2="222.9" y2="209.4" stroke="#666" stroke-width="0.8"/>
<text transform="translate(214.4,209.4) rotate(-90)" font-size="6.15" fill="#333" stroke="#333" stroke-width="0.15" text-anchor="middle">3</text>
<line x1="248.1" y1="325" x2="248.1" y2="328.2" stroke="#666" stroke-width="0.8"/>
<line x1="248.1" y1="213.6" x2="248.1" y2="248.8" stroke="#888" stroke-width="0.7" stroke-dasharray="1.5,1.5"/>
<line x1="248.1" y1="272.1" x2="248.1" y2="300.8" stroke="#888" stroke-width="0.7" stroke-dasharray="1.5,1.5"/>
<line x1="244.1" y1="213.6" x2="252.1" y2="213.6" stroke="#555" stroke-width="0.8"/>
<line x1="244.1" y1="300.8" x2="252.1" y2="300.8" stroke="#555" stroke-width="0.8"/>
<rect x="239.8" y="248.8" width="16.6" height="23.4" fill="#ffc0cb" stroke="#777" stroke-width="0.8"/>
<line x1="239.8" y1="260.2" x2="256.4" y2="260.2" stroke="#222" stroke-width="1.5"/>
<path d="M244.9 300.8h0M249.5 298.1h0M246.0 296.9h0M246.5 296.1h0M245.5 295.4h0M248.7 294.7h0M248.5 294.1h0M246.5 293.6h0M251.4 293.1h0M247.4 292.6h0M245.7 292.2h0M250.1 291.8h0M248.2 291.4h0M247.9 291.0h0M248.8 290.6h0M247.9 290.3h0M247.7 289.9h0M245.1 289.6h0M250.1 289.3h0M248.4 289.0h0M249.5 288.7h0M245.2 288.4h0M247.9 288.1h0M247.1 287.8h0M248.3 287.5h0M249.4 287.2h0M246.5 287.0h0M249.6 286.7h0M249.4 286.4h0M245.3 286.2h0M250.5 285.9h0M248.9 285.7h0M246.6 285.4h0M250.7 285.2h0M245.1 285.0h0M248.6 284.7h0M250.4 284.5h0M249.6 284.3h0M250.8 284.1h0M248.0 283.8h0M250.8 283.6h0M245.1 283.4h0M250.2 283.2h0M246.1 283.0h0M249.1 282.8h0M251.3 282.6h0M248.1 282.4h0M250.4 282.2h0M249.3 282.0h0M250.4 281.8h0M244.8 281.6h0M248.0 281.4h0M249.1 281.2h0M249.6 281.0h0M251.0 280.9h0M246.0 280.7h0M248.3 280.5h0M248.9 280.3h0M247.4 280.1h0M250.9 279.9h0M248.1 279.8h0M245.3 279.6h0M249.0 279.4h0M249.7 279.3h0M249.4 279.1h0M248.0 278.9h0M247.9 278.7h0M250.4 278.6h0M249.4 278.4h0M249.5 278.3h0M250.2 278.1h0M245.5 277.9h0M249.4 277.8h0M250.4 277.6h0M249.6 277.4h0M251.0 277.3h0M247.4 277.1h0M249.8 277.0h0M249.8 276.8h0M249.7 276.7h0M248.2 276.5h0M248.0 276.4h0M250.9 276.2h0M246.2 276.1h0M246.9 275.9h0M245.9 275.8h0M250.4 275.6h0M250.3 275.5h0M247.2 275.3h0M247.4 275.2h0M250.0 275.0h0M249.0 274.9h0M247.6 274.8h0M251.1 274.6h0M248.3 274.5h0M245.4 274.3h0M247.2 274.2h0M247.1 274.1h0M245.8 273.9h0M248.9 273.8h0M248.4 273.7h0M249.4 273.5h0M250.8 273.4h0M246.2 273.3h0M246.6 273.1h0M249.0 273.0h0M249.7 272.9h0M249.4 272.7h0M245.2 272.6h0M250.0 272.5h0M246.4 272.3h0M245.3 272.2h0M251.2 272.1h0M245.6 272.0h0M251.0 271.8h0M246.2 271.7h0M246.2 271.6h0M250.8 271.5h0M249.6 271.3h0M251.1 271.2h0M245.1 271.1h0M249.3 271.0h0M247.7 270.9h0M246.6 270.7h0M247.6 270.6h0M250.1 270.5h0M247.9 270.4h0M250.9 270.3h0M251.0 270.2h0M248.8 270.0h0M245.6 269.9h0M245.7 269.8h0M248.4 269.7h0M250.3 269.6h0M251.4 269.5h0M249.5 269.4h0M244.8 269.2h0M250.8 269.1h0M248.7 269.0h0M245.6 268.9h0M249.4 268.8h0M251.0 268.7h0M246.6 268.6h0M248.6 268.5h0M248.9 268.3h0M248.8 268.2h0M247.0 268.1h0M248.4 268.0h0M250.9 267.9h0M248.4 267.8h0M245.9 267.7h0M248.6 267.6h0M249.7 267.5h0M245.3 267.4h0M250.5 267.3h0M247.9 267.1h0M246.2 267.0h0M246.3 266.9h0M245.3 266.8h0M250.4 266.7h0M250.2 266.6h0M247.5 266.5h0M251.3 266.4h0M246.3 266.3h0M244.8 266.2h0M250.3 266.1h0M249.8 266.0h0M246.0 265.9h0M246.9 265.8h0M245.3 265.7h0M248.5 265.6h0M248.3 265.5h0M249.0 265.4h0M250.4 265.3h0M250.4 265.2h0M247.1 265.0h0M247.6 264.9h0M245.8 264.8h0M248.7 264.7h0M247.4 264.6h0M249.4 264.5h0M246.8 264.4h0M247.2 264.3h0M249.1 264.2h0M245.8 264.1h0M246.4 264.0h0M248.5 263.9h0M249.2 263.8h0M245.6 263.7h0M247.5 263.6h0M247.8 263.5h0M247.5 263.4h0M245.3 263.3h0M249.3 263.2h0M249.4 263.1h0M246.4 263.0h0M248.3 262.9h0M250.3 262.8h0M249.7 262.7h0M244.9 262.6h0M246.9 262.5h0M246.3 262.4h0M250.5 262.3h0M249.4 262.2h0M249.7 262.1h0M244.9 262.0h0M249.7 261.9h0M245.7 261.8h0M246.0 261.7h0M247.9 261.6h0M248.8 261.5h0M246.5 261.4h0M250.5 261.3h0M249.6 261.2h0M251.2 261.1h0M245.8 261.0h0M247.9 260.9h0M247.2 260.8h0M247.4 260.7h0M245.5 260.6h0M250.8 260.5h0M245.6 260.4h0M245.1 260.3h0M244.9 260.2h0M250.0 260.1h0M250.5 260.0h0M246.9 259.9h0M246.1 259.8h0M246.7 259.7h0M247.6 259.7h0M248.8 259.6h0M246.6 259.5h0M249.7 259.4h0M249.7 259.3h0M250.9 259.2h0M251.0 259.1h0M249.7 259.0h0M251.0 258.9h0M249.9 258.8h0M247.4 258.7h0M245.0 258.6h0M246.2 258.5h0M251.0 258.4h0M249.2 258.3h0M250.2 258.2h0M245.2 258.1h0M250.0 258.0h0M246.6 257.9h0M246.7 257.8h0M247.7 257.7h0M250.3 257.7h0M249.5 257.6h0M251.3 257.5h0M244.8 257.4h0M247.7 257.3h0M248.9 257.2h0M247.8 257.1h0M247.4 257.0h0M250.7 256.9h0M248.2 256.8h0M245.8 256.7h0M247.4 256.6h0M247.4 256.5h0M246.7 256.4h0M245.5 256.3h0M250.3 256.2h0M249.4 256.1h0M251.2 256.0h0M249.4 255.9h0M248.1 255.8h0M250.9 255.7h0M248.9 255.6h0M250.6 255.5h0M250.7 255.4h0M248.0 255.3h0M246.2 255.2h0M247.1 255.1h0M250.6 255.0h0M247.6 254.9h0M247.4 254.8h0M246.3 254.7h0M249.9 254.6h0M244.8 254.5h0M250.5 254.4h0M245.9 254.3h0M246.2 254.2h0M246.6 254.1h0M247.6 254.0h0M248.6 253.9h0M249.7 253.8h0M248.0 253.7h0M249.3 253.6h0M245.1 253.5h0M248.9 253.4h0M248.7 253.3h0M245.3 253.2h0M251.2 253.1h0M248.7 253.0h0M248.0 252.9h0M246.2 252.8h0M248.2 252.7h0M250.4 252.6h0M249.4 252.5h0M245.4 252.4h0M246.9 252.3h0M250.9 252.2h0M245.5 252.1h0M248.9 252.0h0M250.5 251.8h0M249.3 251.7h0M249.0 251.6h0M245.0 251.5h0M246.7 251.4h0M246.4 251.3h0M246.5 251.2h0M249.2 251.1h0M246.9 251.0h0M244.9 250.9h0M245.1 250.8h0M247.5 250.6h0M247.6 250.5h0M248.5 250.4h0M246.9 250.3h0M250.1 250.2h0M250.9 250.1h0M250.7 250.0h0M251.0 249.9h0M247.3 249.7h0M247.8 249.6h0M250.6 249.5h0M245.9 249.4h0M250.7 249.3h0M250.2 249.2h0M246.8 249.0h0M244.8 248.9h0M248.3 248.8h0M246.1 248.7h0M246.0 248.5h0M247.3 248.4h0M247.5 248.2h0M249.7 248.0h0M249.4 247.9h0M250.1 247.7h0M249.9 247.5h0M247.4 247.4h0M247.1 247.2h0M247.3 247.1h0M248.3 246.9h0M248.0 246.7h0M248.6 246.6h0M250.8 246.4h0M247.2 246.2h0M248.5 246.0h0M246.1 245.9h0M248.6 245.7h0M248.6 245.5h0M249.3 245.4h0M247.8 245.2h0M245.7 245.0h0M247.1 244.8h0M246.6 244.6h0M246.0 244.5h0M250.9 244.3h0M249.4 244.1h0M251.0 243.9h0M251.0 243.7h0M246.6 243.6h0M246.8 243.4h0M248.1 243.2h0M247.5 243.0h0M247.6 242.8h0M245.4 242.6h0M250.9 242.4h0M250.5 242.2h0M248.6 242.0h0M247.3 241.8h0M248.7 241.6h0M248.4 241.4h0M247.3 241.2h0M249.6 241.0h0M246.5 240.8h0M247.2 240.6h0M250.3 240.4h0M249.5 240.2h0M246.1 240.0h0M247.0 239.8h0M248.2 239.6h0M245.9 239.4h0M249.7 239.2h0M248.9 238.9h0M247.2 238.7h0M247.0 238.5h0M246.0 238.3h0M246.1 238.1h0M248.6 237.8h0M248.4 237.6h0M250.4 237.4h0M250.1 237.1h0M249.6 236.9h0M248.6 236.7h0M246.4 236.4h0M247.7 236.2h0M250.7 235.9h0M250.0 235.7h0M249.7 235.4h0M250.6 235.2h0M250.3 234.9h0M246.5 234.6h0M250.8 234.4h0M251.2 234.1h0M248.7 233.8h0M248.6 233.6h0M250.3 233.3h0M250.1 233.0h0M250.7 232.7h0M247.9 232.4h0M250.5 232.1h0M247.7 231.8h0M247.7 231.5h0M248.1 231.2h0M248.7 230.9h0M245.0 230.6h0M246.3 230.2h0M250.4 229.9h0M245.0 229.6h0M250.7 229.2h0M250.9 228.8h0M247.9 228.5h0M250.7 228.1h0M250.8 227.7h0M247.3 227.3h0M249.9 226.9h0M246.2 226.5h0M247.4 226.0h0M245.9 225.6h0M246.8 225.1h0M251.2 224.6h0M249.0 224.1h0M247.0 223.6h0M245.4 223.0h0M250.4 222.4h0M251.0 221.7h0M251.3 221.0h0M245.1 220.2h0M250.0 219.3h0M246.8 218.3h0M246.1 216.9h0M248.0 213.6h0M245.9 207.2h0M251.7 313.5h0" stroke="#ff0000" stroke-width="1.55" stroke-linecap="round" fill="none"/>
<text x="248.1" y="338.4" font-size="6.15" fill="#333" stroke="#333" stroke-width="0.15" text-anchor="middle">Homo_AA</text>
<text x="248.1" y="345" font-size="6.15" fill="#333" stroke="#333" stroke-width="0.15" text-anchor="middle">(n=450)</text>
<line x1="291.2" y1="325" x2="291.2" y2="328.2" stroke="#666" stroke-width="0.8"/>
<line x1="291.2" y1="222.5" x2="291.2" y2="253.5" stroke="#888" stroke-width="0.7" stroke-dasharray="1.5,1.5"/>
<line x1="291.2" y1="276.9" x2="291.2" y2="310.0" stroke="#888" stroke-width="0.7" stroke-dasharray="1.5,1.5"/>
<line x1="287.2" y1="222.5" x2="295.2" y2="222.5" stroke="#555" stroke-width="0.8"/>
<line x1="287.2" y1="310.0" x2="295.2" y2="310.0" stroke="#555" stroke-width="0.8"/>
<rect x="282.9" y="253.5" width="16.6" height="23.4" fill="#00ffff" stroke="#777" stroke-width="0.8"/>
<line x1="282.9" y1="265.6" x2="299.6" y2="265.6" stroke="#222" stroke-width="1.5"/>
<path d="M290.0 310.0h0M294.1 306.9h0M289.0 305.7h0M290.4 304.7h0M289.0 303.9h0M292.7 303.1h0M291.2 302.5h0M291.2 301.9h0M293.9 301.3h0M291.8 300.8h0M291.3 300.3h0M293.6 299.8h0M291.8 299.3h0M293.9 298.9h0M292.2 298.5h0M292.7 298.1h0M291.4 297.7h0M288.7 297.3h0M291.8 296.9h0M293.7 296.6h0M292.9 296.2h0M294.3 295.9h0M289.6 295.6h0M293.6 295.2h0M289.0 294.9h0M288.0 294.6h0M288.2 294.3h0M289.3 294.0h0M289.4 293.7h0M293.1 293.4h0M291.3 293.1h0M293.7 292.9h0M290.3 292.6h0M288.9 292.3h0M289.9 292.0h0M289.2 291.8h0M293.0 291.5h0M294.1 291.3h0M291.6 291.0h0M291.6 290.8h0M291.7 290.5h0M292.6 290.3h0M293.4 290.0h0M293.4 289.8h0M290.9 289.6h0M291.3 289.3h0M291.0 289.1h0M289.0 288.9h0M288.4 288.7h0M293.4 288.4h0M290.9 288.2h0M289.1 288.0h0M288.2 287.8h0M288.1 287.6h0M290.8 287.4h0M291.7 287.2h0M294.0 287.0h0M293.0 286.7h0M290.6 286.5h0M291.8 286.3h0M288.1 286.1h0M289.0 285.9h0M290.8 285.7h0M291.8 285.6h0M292.4 285.4h0M294.0 285.2h0M290.3 285.0h0M290.6 284.8h0M288.9 284.6h0M289.8 284.4h0M289.2 284.2h0M293.4 284.0h0M292.1 283.9h0M293.2 283.7h0M288.4 283.5h0M291.1 283.3h0M292.3 283.1h0M289.4 283.0h0M291.5 282.8h0M288.2 282.6h0M292.2 282.4h0M291.9 282.3h0M292.2 282.1h0M288.2 281.9h0M291.6 281.8h0M290.3 281.6h0M289.5 281.4h0M294.5 281.3h0M291.4 281.1h0M292.6 280.9h0M291.2 280.8h0M293.8 280.6h0M289.0 280.5h0M291.2 280.3h0M292.6 280.1h0M289.1 280.0h0M288.9 279.8h0M291.2 279.7h0M291.5 279.5h0M293.7 279.3h0M292.2 279.2h0M289.5 279.0h0M290.1 278.9h0M293.4 278.7h0M289.0 278.6h0M290.0 278.4h0M290.1 278.3h0M291.9 278.1h0M292.7 278.0h0M289.0 277.8h0M290.8 277.7h0M293.6 277.5h0M292.3 277.4h0M293.6 277.3h0M293.6 277.1h0M291.4 277.0h0M289.8 276.8h0M290.0 276.7h0M291.4 276.6h0M293.9 276.5h0M289.8 276.4h0M293.1 276.3h0M289.7 276.2h0M289.5 276.0h0M288.3 275.9h0M290.5 275.8h0M293.3 275.7h0M290.7 275.6h0M292.1 275.5h0M288.5 275.4h0M290.0 275.3h0M291.4 275.2h0M288.0 275.1h0M289.8 275.0h0M293.3 274.9h0M288.6 274.8h0M293.1 274.7h0M292.1 274.6h0M289.5 274.5h0M289.1 274.4h0M292.4 274.2h0M291.7 274.1h0M290.2 274.0h0M293.3 273.9h0M291.5 273.8h0M294.1 273.7h0M290.2 273.6h0M290.9 273.5h0M293.4 273.4h0M290.0 273.3h0M293.0 273.2h0M293.1 273.1h0M292.3 273.0h0M291.9 272.9h0M293.7 272.8h0M289.1 272.7h0M294.3 272.6h0M293.7 272.5h0M290.2 272.4h0M288.0 272.4h0M294.5 272.3h0M293.8 272.2h0M292.2 272.1h0M294.4 272.0h0M289.0 271.9h0M290.0 271.8h0M290.6 271.7h0M289.0 271.6h0M289.1 271.5h0M293.6 271.4h0M291.3 271.3h0M290.6 271.2h0M290.6 271.1h0M292.6 271.0h0M292.6 270.9h0M290.6 270.8h0M288.6 270.7h0M290.1 270.6h0M289.9 270.5h0M289.1 270.4h0M291.8 270.3h0M294.3 270.3h0M291.8 270.2h0M288.3 270.1h0M288.9 270.0h0M294.1 269.9h0M294.4 269.8h0M290.4 269.7h0M290.9 269.6h0M289.7 269.5h0M292.4 269.4h0M293.9 269.3h0M291.8 269.2h0M292.6 269.1h0M288.0 269.1h0M293.6 269.0h0M291.6 268.9h0M288.2 268.8h0M290.2 268.7h0M292.8 268.6h0M289.3 268.5h0M293.3 268.4h0M292.0 268.3h0M292.2 268.2h0M293.8 268.1h0M294.0 268.0h0M290.0 268.0h0M288.9 267.9h0M292.5 267.8h0M292.9 267.7h0M289.8 267.6h0M290.6 267.5h0M293.6 267.4h0M289.1 267.3h0M288.6 267.2h0M294.2 267.1h0M288.0 267.1h0M289.3 267.0h0M288.1 266.9h0M290.9 266.8h0M292.5 266.7h0M289.4 266.6h0M288.8 266.5h0M291.3 266.4h0M289.4 266.3h0M291.7 266.2h0M290.8 266.2h0M289.7 266.1h0M293.3 266.0h0M289.7 265.9h0M291.6 265.8h0M288.2 265.7h0M293.7 265.6h0M289.2 265.5h0M292.3 265.4h0M294.5 265.3h0M289.4 265.2h0M292.5 265.1h0M288.4 265.0h0M294.0 264.9h0M292.3 264.8h0M292.6 264.7h0M288.2 264.6h0M290.5 264.5h0M291.9 264.4h0M289.6 264.3h0M292.9 264.3h0M291.7 264.2h0M289.3 264.1h0M293.7 264.0h0M292.2 263.9h0M289.6 263.8h0M290.3 263.7h0M292.4 263.6h0M292.2 263.5h0M290.8 263.4h0M292.3 263.3h0M288.4 263.2h0M289.5 263.1h0M288.6 263.0h0M292.5 262.9h0M292.7 262.8h0M292.6 262.7h0M292.1 262.6h0M290.2 262.5h0M291.3 262.4h0M290.8 262.3h0M288.9 262.2h0M293.3 262.1h0M288.8 262.0h0M289.8 261.9h0M292.9 261.8h0M293.7 261.7h0M288.6 261.6h0M293.0 261.5h0M289.5 261.4h0M294.0 261.3h0M288.6 261.2h0M294.5 261.1h0M289.8 261.0h0M289.6 260.9h0M293.4 260.8h0M290.2 260.7h0M289.0 260.6h0M290.0 260.5h0M294.1 260.4h0M291.6 260.3h0M291.2 260.2h0M291.7 260.1h0M288.7 260.0h0M291.7 259.9h0M292.6 259.8h0M288.0 259.7h0M289.2 259.6h0M294.1 259.5h0M291.2 259.4h0M289.7 259.3h0M292.0 259.2h0M290.6 259.1h0M288.3 259.0h0M294.2 258.9h0M290.2 258.8h0M291.0 258.6h0M290.3 258.5h0M293.3 258.4h0M290.3 258.3h0M290.2 258.2h0M290.9 258.1h0M294.4 258.0h0M293.9 257.9h0M288.3 257.8h0M294.1 257.7h0M291.9 257.6h0M288.9 257.5h0M290.1 257.4h0M292.4 257.3h0M294.1 257.2h0M293.1 257.0h0M290.2 256.9h0M291.2 256.8h0M293.0 256.7h0M291.9 256.6h0M291.5 256.5h0M288.3 256.4h0M289.1 256.3h0M288.8 256.2h0M289.4 256.1h0M292.5 255.9h0M291.6 255.8h0M291.1 255.7h0M291.6 255.6h0M289.0 255.5h0M289.1 255.4h0M292.0 255.3h0M294.4 255.2h0M289.2 255.0h0M291.5 254.9h0M289.3 254.8h0M288.3 254.7h0M294.4 254.6h0M293.1 254.5h0M293.3 254.3h0M292.3 254.2h0M288.4 254.1h0M290.3 254.0h0M294.5 253.9h0M291.1 253.7h0M292.6 253.6h0M294.3 253.5h0M292.7 253.4h0M289.1 253.2h0M294.0 253.1h0M292.8 253.0h0M289.5 252.8h0M288.2 252.7h0M290.1 252.5h0M290.8 252.4h0M289.6 252.3h0M290.5 252.1h0M291.0 252.0h0M289.4 251.9h0M293.8 251.7h0M292.2 251.6h0M294.2 251.4h0M292.0 251.3h0M289.2 251.1h0M288.4 251.0h0M289.9 250.8h0M291.6 250.7h0M293.7 250.5h0M293.3 250.4h0M294.0 250.3h0M293.0 250.1h0M291.3 250.0h0M290.3 249.8h0M289.0 249.6h0M288.0 249.5h0M293.1 249.3h0M292.0 249.2h0M289.7 249.0h0M288.7 248.9h0M288.1 248.7h0M291.0 248.6h0M289.6 248.4h0M293.6 248.2h0M288.4 248.1h0M291.2 247.9h0M291.0 247.7h0M292.3 247.6h0M289.3 247.4h0M291.8 247.3h0M289.6 247.1h0M290.6 246.9h0M289.4 246.7h0M293.4 246.6h0M291.3 246.4h0M288.1 246.2h0M291.1 246.1h0M293.6 245.9h0M288.6 245.7h0M293.5 245.5h0M292.4 245.3h0M292.9 245.2h0M292.8 245.0h0M288.2 244.8h0M290.7 244.6h0M293.5 244.4h0M292.6 244.2h0M292.9 244.0h0M292.0 243.8h0M290.5 243.6h0M293.5 243.4h0M288.8 243.2h0M293.6 243.0h0M293.4 242.8h0M291.1 242.6h0M291.9 242.4h0M292.7 242.2h0M288.1 242.0h0M289.0 241.8h0M293.3 241.6h0M289.8 241.4h0M290.6 241.1h0M293.0 240.9h0M292.5 240.7h0M288.3 240.5h0M290.6 240.2h0M289.4 240.0h0M290.9 239.8h0M290.5 239.5h0M290.4 239.3h0M293.1 239.0h0M291.1 238.8h0M292.1 238.5h0M289.3 238.2h0M290.0 238.0h0M291.0 237.7h0M291.9 237.4h0M290.8 237.2h0M293.1 236.9h0M290.4 236.6h0M289.5 236.3h0M290.0 236.0h0M291.1 235.7h0M293.6 235.4h0M292.8 235.0h0M289.4 234.7h0M294.3 234.3h0M293.8 234.0h0M292.2 233.6h0M291.4 233.2h0M293.7 232.9h0M292.4 232.4h0M292.0 232.0h0M288.2 231.6h0M291.4 231.1h0M293.5 230.6h0M290.7 230.1h0M294.2 229.5h0M290.4 228.9h0M290.7 228.2h0M293.2 227.5h0M290.8 226.5h0M289.3 225.3h0M292.0 222.5h0M293.0 210.5h0" stroke="#0000ff" stroke-width="1.55" stroke-linecap="round" fill="none"/>
<text x="291.2" y="338.4" font-size="6.15" fill="#333" stroke="#333" stroke-width="0.15" text-anchor="middle">Het_Aa</text>
<text x="291.2" y="345" font-size="6.15" fill="#333" stroke="#333" stroke-width="0.15" text-anchor="middle">(n=466)</text>
<line x1="333.4" y1="325" x2="333.4" y2="328.2" stroke="#666" stroke-width="0.8"/>
<line x1="333.4" y1="220.5" x2="333.4" y2="258.2" stroke="#888" stroke-width="0.7" stroke-dasharray="1.5,1.5"/>
<line x1="333.4" y1="285.0" x2="333.4" y2="320.4" stroke="#888" stroke-width="0.7" stroke-dasharray="1.5,1.5"/>
<line x1="329.4" y1="220.5" x2="337.4" y2="220.5" stroke="#555" stroke-width="0.8"/>
<line x1="329.4" y1="320.4" x2="337.4" y2="320.4" stroke="#555" stroke-width="0.8"/>
<rect x="325.1" y="258.2" width="16.6" height="26.8" fill="#ffff99" stroke="#777" stroke-width="0.8"/>
<line x1="325.1" y1="270.7" x2="341.7" y2="270.7" stroke="#222" stroke-width="1.5"/>
<path d="M330.7 320.4h0M330.8 314.7h0M334.2 312.4h0M333.6 310.6h0M330.9 309.1h0M332.8 307.8h0M330.2 306.6h0M335.7 305.5h0M335.7 304.5h0M330.6 303.5h0M332.4 302.6h0M331.7 301.7h0M334.4 300.9h0M333.5 300.1h0M333.8 299.3h0M335.8 298.6h0M333.9 297.9h0M333.9 297.2h0M334.9 296.5h0M331.6 295.8h0M335.0 295.2h0M336.2 294.6h0M334.2 294.0h0M336.1 293.4h0M332.2 292.8h0M332.2 292.2h0M333.9 291.7h0M330.5 291.1h0M333.6 290.6h0M330.8 290.1h0M334.0 289.6h0M336.4 289.0h0M330.2 288.5h0M332.3 288.1h0M330.2 287.6h0M332.4 287.1h0M332.3 286.6h0M330.1 286.1h0M331.1 285.7h0M334.2 285.2h0M333.3 284.8h0M334.6 284.4h0M332.5 284.0h0M334.8 283.6h0M334.3 283.2h0M335.2 282.8h0M332.1 282.4h0M333.3 282.0h0M330.6 281.6h0M332.2 281.3h0M333.4 280.9h0M335.6 280.5h0M336.2 280.1h0M335.0 279.8h0M332.0 279.4h0M332.8 279.1h0M335.1 278.7h0M336.0 278.3h0M336.3 278.0h0M332.6 277.6h0M332.3 277.3h0M335.0 276.9h0M333.4 276.6h0M335.6 276.2h0M333.0 275.9h0M331.1 275.6h0M332.7 275.2h0M333.7 274.9h0M334.8 274.5h0M332.6 274.2h0M336.5 273.9h0M331.1 273.5h0M332.7 273.2h0M331.4 272.9h0M331.2 272.5h0M335.8 272.2h0M336.1 271.9h0M336.4 271.5h0M333.8 271.2h0M330.4 270.9h0M330.4 270.5h0M331.7 270.3h0M336.4 270.0h0M332.3 269.7h0M336.3 269.4h0M332.6 269.1h0M330.4 268.8h0M335.3 268.5h0M334.9 268.2h0M333.9 267.9h0M333.7 267.6h0M334.7 267.3h0M331.2 267.0h0M332.4 266.7h0M332.7 266.4h0M330.9 266.1h0M334.2 265.8h0M333.7 265.5h0M331.1 265.2h0M335.8 264.9h0M330.6 264.6h0M332.6 264.3h0M331.4 264.0h0M335.1 263.7h0M331.3 263.4h0M330.5 263.1h0M335.5 262.8h0M332.5 262.4h0M335.0 262.1h0M334.8 261.8h0M335.8 261.5h0M332.4 261.1h0M335.4 260.8h0M333.5 260.5h0M335.5 260.1h0M331.9 259.8h0M330.8 259.4h0M334.3 259.1h0M336.2 258.7h0M332.1 258.4h0M333.8 257.9h0M333.9 257.5h0M330.6 257.0h0M334.2 256.5h0M335.3 256.0h0M332.1 255.5h0M330.2 254.9h0M332.3 254.4h0M332.8 253.9h0M334.1 253.3h0M331.3 252.8h0M330.4 252.2h0M336.0 251.6h0M333.8 251.1h0M332.9 250.5h0M335.2 249.9h0M330.7 249.2h0M334.6 248.6h0M335.6 248.0h0M332.7 247.3h0M332.8 246.6h0M336.2 245.9h0M331.1 245.2h0M334.3 244.5h0M333.4 243.7h0M333.4 242.9h0M334.3 242.1h0M333.9 241.3h0M334.5 240.4h0M331.7 239.4h0M335.1 238.5h0M333.0 237.4h0M331.8 236.3h0M331.2 235.2h0M335.1 233.9h0M336.2 232.5h0M335.9 230.9h0M335.3 229.0h0M336.5 226.5h0M336.5 220.5h0" stroke="#ff8c1a" stroke-width="1.55" stroke-linecap="round" fill="none"/>
<text x="333.4" y="338.4" font-size="6.15" fill="#333" stroke="#333" stroke-width="0.15" text-anchor="middle">Homo_aa</text>
<text x="333.4" y="345" font-size="6.15" fill="#333" stroke="#333" stroke-width="0.15" text-anchor="middle">(n=160)</text>
<rect x="222.9" y="202.6" width="136.7" height="122.4" fill="none" stroke="#999" stroke-width="1.1"/>
<text x="291.2" y="353.9" font-size="6.15" fill="#333" stroke="#333" stroke-width="0.15" text-anchor="middle">rs11191419 (n=1076)</text>
<line x1="377.5" y1="187.5" x2="543" y2="187.5" stroke="#f3f3f3" stroke-width="2"/>
<line x1="377.5" y1="352.7" x2="543" y2="352.7" stroke="#f3f3f3" stroke-width="2"/>
<line x1="377.5" y1="187.5" x2="377.5" y2="352.7" stroke="#f3f3f3" stroke-width="2"/>
<text transform="translate(382.8,201.1) scale(0.9,1)" font-size="13" fill="#333">F</text>
<text x="474.0" y="197.5" font-size="5.85" fill="#333" stroke="#333" stroke-width="0.15" text-anchor="middle">THCA, P = 0.000112</text>
<text transform="translate(388,266.3) rotate(-90)" font-size="5.85" fill="#333" stroke="#333" stroke-width="0.15" text-anchor="middle">SFXN2 expression (Normalized)</text>
<line x1="405.3" y1="319.6" x2="408.5" y2="319.6" stroke="#666" stroke-width="0.8"/>
<text transform="translate(400.0,319.6) rotate(-90)" font-size="5.85" fill="#333" stroke="#333" stroke-width="0.15" text-anchor="middle">−3</text>
<line x1="405.3" y1="300.9" x2="408.5" y2="300.9" stroke="#666" stroke-width="0.8"/>
<text transform="translate(400.0,300.9) rotate(-90)" font-size="5.85" fill="#333" stroke="#333" stroke-width="0.15" text-anchor="middle">−2</text>
<line x1="405.3" y1="282.2" x2="408.5" y2="282.2" stroke="#666" stroke-width="0.8"/>
<text transform="translate(400.0,282.2) rotate(-90)" font-size="5.85" fill="#333" stroke="#333" stroke-width="0.15" text-anchor="middle">−1</text>
<line x1="405.3" y1="263.5" x2="408.5" y2="263.5" stroke="#666" stroke-width="0.8"/>
<text transform="translate(400.0,263.5) rotate(-90)" font-size="5.85" fill="#333" stroke="#333" stroke-width="0.15" text-anchor="middle">0</text>
<line x1="405.3" y1="244.8" x2="408.5" y2="244.8" stroke="#666" stroke-width="0.8"/>
<text transform="translate(400.0,244.8) rotate(-90)" font-size="5.85" fill="#333" stroke="#333" stroke-width="0.15" text-anchor="middle">1</text>
<line x1="405.3" y1="226.1" x2="408.5" y2="226.1" stroke="#666" stroke-width="0.8"/>
<text transform="translate(400.0,226.1) rotate(-90)" font-size="5.85" fill="#333" stroke="#333" stroke-width="0.15" text-anchor="middle">2</text>
<line x1="405.3" y1="207.4" x2="408.5" y2="207.4" stroke="#666" stroke-width="0.8"/>
<text transform="translate(400.0,207.4) rotate(-90)" font-size="5.85" fill="#333" stroke="#333" stroke-width="0.15" text-anchor="middle">3</text>
<line x1="433.6" y1="322" x2="433.6" y2="325.2" stroke="#666" stroke-width="0.8"/>
<line x1="433.6" y1="216.6" x2="433.6" y2="248.4" stroke="#888" stroke-width="0.7" stroke-dasharray="1.5,1.5"/>
<line x1="433.6" y1="274.2" x2="433.6" y2="308.9" stroke="#888" stroke-width="0.7" stroke-dasharray="1.5,1.5"/>
<line x1="429.6" y1="216.6" x2="437.6" y2="216.6" stroke="#555" stroke-width="0.8"/>
<line x1="429.6" y1="308.9" x2="437.6" y2="308.9" stroke="#555" stroke-width="0.8"/>
<rect x="425.3" y="248.4" width="16.6" height="25.8" fill="#ffc0cb" stroke="#777" stroke-width="0.8"/>
<line x1="425.3" y1="262.2" x2="441.9" y2="262.2" stroke="#222" stroke-width="1.5"/>
<path d="M433.8 308.9h0M435.1 303.8h0M430.8 301.7h0M430.5 300.0h0M431.0 298.7h0M434.4 297.4h0M436.6 296.3h0M433.4 295.3h0M436.3 294.4h0M431.6 293.5h0M434.9 292.7h0M434.5 291.9h0M431.2 291.1h0M432.3 290.4h0M435.0 289.7h0M433.8 289.0h0M434.9 288.4h0M433.6 287.7h0M435.8 287.1h0M434.2 286.5h0M434.1 285.9h0M435.8 285.4h0M435.9 284.8h0M434.6 284.3h0M436.9 283.7h0M434.5 283.2h0M436.1 282.7h0M433.8 282.2h0M435.7 281.7h0M432.7 281.2h0M433.1 280.8h0M434.8 280.3h0M436.3 279.9h0M435.9 279.4h0M436.1 279.0h0M434.6 278.5h0M436.3 278.1h0M436.8 277.7h0M431.3 277.2h0M432.2 276.8h0M432.4 276.4h0M433.4 276.0h0M435.8 275.6h0M436.1 275.2h0M434.5 274.8h0M430.7 274.4h0M432.9 274.1h0M434.9 273.8h0M436.0 273.5h0M431.3 273.2h0M436.0 272.9h0M435.6 272.6h0M435.6 272.3h0M434.6 272.1h0M436.9 271.8h0M435.2 271.5h0M433.2 271.2h0M436.8 270.9h0M433.7 270.7h0M436.7 270.4h0M434.0 270.1h0M435.4 269.9h0M434.9 269.6h0M430.5 269.4h0M431.1 269.1h0M436.1 268.8h0M430.6 268.6h0M433.2 268.3h0M433.9 268.1h0M436.0 267.8h0M431.7 267.6h0M432.5 267.3h0M435.9 267.1h0M433.2 266.8h0M435.2 266.6h0M431.2 266.3h0M435.0 266.1h0M433.5 265.8h0M436.6 265.6h0M433.1 265.3h0M432.8 265.1h0M432.3 264.8h0M431.6 264.6h0M434.5 264.4h0M431.3 264.1h0M432.4 263.9h0M433.6 263.6h0M435.9 263.4h0M431.7 263.2h0M431.3 262.9h0M436.4 262.7h0M435.0 262.4h0M432.8 262.2h0M430.8 261.9h0M432.4 261.6h0M431.5 261.4h0M430.8 261.1h0M432.5 260.8h0M432.9 260.5h0M435.1 260.2h0M436.7 260.0h0M432.0 259.7h0M431.9 259.4h0M431.7 259.1h0M431.5 258.8h0M435.0 258.6h0M434.0 258.3h0M431.4 258.0h0M433.1 257.7h0M432.9 257.4h0M433.5 257.1h0M435.3 256.8h0M435.8 256.6h0M435.7 256.3h0M433.6 256.0h0M435.2 255.7h0M436.8 255.4h0M436.6 255.1h0M433.7 254.8h0M435.9 254.5h0M431.3 254.2h0M433.5 253.9h0M433.4 253.6h0M433.3 253.3h0M434.1 253.0h0M436.5 252.7h0M432.5 252.4h0M433.0 252.1h0M435.8 251.7h0M433.7 251.4h0M433.9 251.1h0M436.3 250.8h0M430.3 250.5h0M433.2 250.1h0M435.6 249.8h0M433.7 249.5h0M432.6 249.1h0M431.0 248.8h0M434.8 248.4h0M434.3 248.1h0M431.2 247.7h0M430.3 247.4h0M433.8 247.0h0M434.0 246.7h0M435.4 246.3h0M434.3 245.9h0M430.5 245.5h0M434.9 245.2h0M432.5 244.8h0M435.0 244.4h0M434.7 244.0h0M435.6 243.6h0M432.1 243.2h0M433.2 242.7h0M433.1 242.3h0M433.3 241.9h0M432.6 241.4h0M430.7 241.0h0M431.7 240.5h0M433.1 240.1h0M431.8 239.6h0M434.0 239.1h0M432.6 238.6h0M434.5 238.1h0M431.7 237.6h0M434.1 237.0h0M434.1 236.5h0M436.5 235.9h0M435.3 235.4h0M436.1 234.8h0M433.8 234.1h0M433.9 233.5h0M430.5 232.8h0M433.6 232.2h0M433.3 231.4h0M430.7 230.7h0M433.1 229.9h0M433.5 229.0h0M433.4 228.1h0M436.9 227.1h0M430.8 226.0h0M433.8 224.7h0M432.4 223.2h0M432.5 221.3h0M433.2 216.6h0" stroke="#ff0000" stroke-width="1.55" stroke-linecap="round" fill="none"/>
<text x="433.6" y="334.9" font-size="5.85" fill="#333" stroke="#333" stroke-width="0.15" text-anchor="middle">Homo_AA</text>
<text x="433.6" y="341.7" font-size="5.85" fill="#333" stroke="#333" stroke-width="0.15" text-anchor="middle">(n=185)</text>
<line x1="474.0" y1="322" x2="474.0" y2="325.2" stroke="#666" stroke-width="0.8"/>
<line x1="474.0" y1="223.5" x2="474.0" y2="251.3" stroke="#888" stroke-width="0.7" stroke-dasharray="1.5,1.5"/>
<line x1="474.0" y1="275.5" x2="474.0" y2="310.6" stroke="#888" stroke-width="0.7" stroke-dasharray="1.5,1.5"/>
<line x1="470.0" y1="223.5" x2="478.0" y2="223.5" stroke="#555" stroke-width="0.8"/>
<line x1="470.0" y1="310.6" x2="478.0" y2="310.6" stroke="#555" stroke-width="0.8"/>
<rect x="465.7" y="251.3" width="16.6" height="24.1" fill="#00ffff" stroke="#777" stroke-width="0.8"/>
<line x1="465.7" y1="262.8" x2="482.3" y2="262.8" stroke="#222" stroke-width="1.5"/>
<path d="M476.6 310.6h0M476.5 306.0h0M471.8 304.1h0M472.7 302.6h0M474.7 301.4h0M475.3 300.3h0M474.7 299.3h0M472.4 298.4h0M475.2 297.5h0M473.9 296.7h0M473.8 296.0h0M476.8 295.2h0M472.5 294.6h0M476.3 293.9h0M475.2 293.3h0M475.2 292.7h0M473.0 292.1h0M472.8 291.5h0M475.3 291.0h0M474.4 290.4h0M471.2 289.9h0M471.6 289.4h0M475.3 288.9h0M470.9 288.4h0M473.9 287.9h0M471.4 287.4h0M475.2 287.0h0M472.7 286.5h0M474.8 286.1h0M473.1 285.7h0M476.1 285.2h0M470.9 284.8h0M477.1 284.4h0M475.4 284.0h0M470.7 283.6h0M471.2 283.2h0M473.9 282.8h0M476.6 282.4h0M473.0 282.0h0M470.7 281.7h0M476.0 281.3h0M471.8 280.9h0M472.3 280.6h0M475.8 280.2h0M474.6 279.9h0M476.5 279.5h0M476.1 279.2h0M470.8 278.8h0M474.8 278.5h0M475.9 278.2h0M474.5 277.8h0M475.9 277.5h0M475.3 277.2h0M474.2 276.9h0M476.4 276.6h0M475.2 276.2h0M472.4 275.9h0M474.5 275.6h0M476.6 275.3h0M475.0 275.1h0M476.5 274.8h0M471.3 274.6h0M472.2 274.3h0M473.0 274.1h0M474.6 273.9h0M472.0 273.6h0M471.3 273.4h0M475.4 273.1h0M473.8 272.9h0M471.9 272.7h0M477.1 272.4h0M470.8 272.2h0M475.2 272.0h0M476.6 271.7h0M475.6 271.5h0M473.8 271.3h0M472.3 271.1h0M475.0 270.8h0M471.8 270.6h0M477.0 270.4h0M474.2 270.2h0M473.3 270.0h0M473.7 269.7h0M477.1 269.5h0M471.4 269.3h0M475.5 269.1h0M471.6 268.9h0M472.4 268.7h0M472.3 268.4h0M475.1 268.2h0M474.9 268.0h0M472.6 267.8h0M474.2 267.6h0M476.1 267.4h0M471.1 267.2h0M473.5 267.0h0M473.0 266.8h0M475.7 266.5h0M476.4 266.3h0M476.1 266.1h0M473.3 265.9h0M476.6 265.7h0M475.7 265.5h0M474.2 265.3h0M476.7 265.1h0M471.2 264.9h0M472.9 264.7h0M475.6 264.5h0M475.1 264.3h0M477.0 264.1h0M476.5 263.9h0M475.0 263.7h0M473.5 263.5h0M473.5 263.3h0M476.9 263.1h0M472.4 262.9h0M472.4 262.7h0M470.8 262.5h0M471.3 262.3h0M476.2 262.1h0M472.7 261.9h0M473.2 261.7h0M477.0 261.6h0M472.3 261.4h0M476.5 261.2h0M473.0 261.0h0M476.3 260.8h0M477.0 260.6h0M474.2 260.5h0M476.6 260.3h0M472.8 260.1h0M472.5 259.9h0M475.8 259.7h0M475.6 259.5h0M476.9 259.3h0M473.8 259.2h0M476.8 259.0h0M471.0 258.8h0M477.0 258.6h0M472.1 258.4h0M475.2 258.2h0M476.8 258.0h0M476.4 257.8h0M474.5 257.7h0M475.7 257.5h0M473.5 257.3h0M475.0 257.1h0M471.9 256.9h0M471.6 256.7h0M475.9 256.5h0M474.3 256.3h0M476.2 256.1h0M471.1 255.9h0M471.8 255.7h0M475.5 255.5h0M474.1 255.3h0M471.6 255.1h0M475.3 254.9h0M474.3 254.7h0M472.3 254.5h0M472.3 254.3h0M474.9 254.1h0M477.2 253.9h0M473.0 253.7h0M472.2 253.4h0M475.0 253.2h0M475.2 253.0h0M475.1 252.8h0M473.5 252.6h0M476.1 252.4h0M472.6 252.1h0M476.2 251.9h0M476.8 251.7h0M477.1 251.5h0M474.2 251.2h0M472.2 251.0h0M475.1 250.7h0M470.9 250.5h0M475.6 250.2h0M472.6 250.0h0M476.5 249.7h0M471.0 249.5h0M476.9 249.2h0M473.5 248.9h0M472.8 248.7h0M474.6 248.4h0M477.2 248.1h0M476.4 247.9h0M473.6 247.6h0M474.0 247.3h0M471.5 247.0h0M474.6 246.7h0M472.0 246.4h0M471.3 246.1h0M473.8 245.8h0M471.1 245.5h0M473.1 245.2h0M474.3 244.9h0M476.1 244.6h0M472.8 244.3h0M475.2 243.9h0M472.7 243.6h0M472.9 243.3h0M472.8 242.9h0M473.5 242.6h0M471.2 242.2h0M474.2 241.9h0M476.6 241.5h0M473.4 241.1h0M474.7 240.7h0M474.3 240.3h0M474.3 239.9h0M471.0 239.5h0M470.8 239.1h0M472.6 238.6h0M476.5 238.2h0M470.9 237.7h0M474.5 237.2h0M471.6 236.7h0M470.7 236.2h0M471.7 235.7h0M475.2 235.1h0M470.9 234.5h0M473.7 233.9h0M475.6 233.2h0M475.0 232.5h0M473.3 231.7h0M476.6 230.8h0M474.3 229.8h0M472.1 228.7h0M472.0 227.2h0M476.2 223.5h0M473.0 209.6h0M476.0 213.9h0" stroke="#0000ff" stroke-width="1.55" stroke-linecap="round" fill="none"/>
<text x="474.0" y="334.9" font-size="5.85" fill="#333" stroke="#333" stroke-width="0.15" text-anchor="middle">Het_Aa</text>
<text x="474.0" y="341.7" font-size="5.85" fill="#333" stroke="#333" stroke-width="0.15" text-anchor="middle">(n=234)</text>
<line x1="514.4" y1="322" x2="514.4" y2="325.2" stroke="#666" stroke-width="0.8"/>
<line x1="514.4" y1="225.4" x2="514.4" y2="261.1" stroke="#888" stroke-width="0.7" stroke-dasharray="1.5,1.5"/>
<line x1="514.4" y1="285.6" x2="514.4" y2="317.4" stroke="#888" stroke-width="0.7" stroke-dasharray="1.5,1.5"/>
<line x1="510.4" y1="225.4" x2="518.4" y2="225.4" stroke="#555" stroke-width="0.8"/>
<line x1="510.4" y1="317.4" x2="518.4" y2="317.4" stroke="#555" stroke-width="0.8"/>
<rect x="506.1" y="261.1" width="16.6" height="24.5" fill="#ffff99" stroke="#777" stroke-width="0.8"/>
<line x1="506.1" y1="272.9" x2="522.7" y2="272.9" stroke="#222" stroke-width="1.5"/>
<path d="M512.6 317.4h0M513.4 310.0h0M516.0 306.9h0M514.9 304.6h0M513.7 302.6h0M512.4 300.8h0M511.3 299.3h0M513.9 297.8h0M515.3 296.5h0M516.2 295.2h0M511.7 294.0h0M513.7 292.8h0M512.1 291.8h0M516.8 290.7h0M513.8 289.7h0M514.5 288.7h0M516.0 287.8h0M515.1 286.9h0M511.1 286.0h0M516.2 285.2h0M511.4 284.4h0M514.9 283.7h0M514.6 283.0h0M516.8 282.2h0M516.7 281.5h0M515.4 280.9h0M514.1 280.2h0M511.9 279.5h0M513.0 278.9h0M516.6 278.2h0M513.6 277.6h0M516.3 276.9h0M513.8 276.3h0M512.4 275.7h0M514.3 275.0h0M517.1 274.4h0M517.0 273.8h0M514.9 273.2h0M512.4 272.6h0M517.7 272.0h0M513.7 271.4h0M513.4 270.8h0M512.9 270.2h0M512.7 269.7h0M511.3 269.1h0M513.7 268.5h0M513.7 267.9h0M516.9 267.3h0M515.8 266.7h0M514.7 266.1h0M517.4 265.4h0M512.5 264.8h0M514.6 264.2h0M517.5 263.5h0M511.2 262.8h0M512.2 262.1h0M512.1 261.4h0M512.2 260.6h0M514.3 259.6h0M515.2 258.6h0M517.6 257.5h0M513.5 256.4h0M517.4 255.3h0M512.4 254.1h0M511.7 252.9h0M515.4 251.6h0M516.6 250.3h0M515.2 248.8h0M513.3 247.3h0M514.5 245.7h0M517.1 243.9h0M513.2 242.0h0M517.1 239.7h0M515.2 237.1h0M512.7 233.7h0M512.2 225.4h0M512.9 222.4h0" stroke="#ff8c1a" stroke-width="1.55" stroke-linecap="round" fill="none"/>
<text x="514.4" y="334.9" font-size="5.85" fill="#333" stroke="#333" stroke-width="0.15" text-anchor="middle">Homo_aa</text>
<text x="514.4" y="341.7" font-size="5.85" fill="#333" stroke="#333" stroke-width="0.15" text-anchor="middle">(n=77)</text>
<rect x="408.5" y="205.3" width="131.0" height="116.7" fill="none" stroke="#999" stroke-width="1.1"/>
<text x="474.0" y="349.8" font-size="5.85" fill="#333" stroke="#333" stroke-width="0.15" text-anchor="middle">rs11191419 (n=496)</text>
</svg></body></html>
